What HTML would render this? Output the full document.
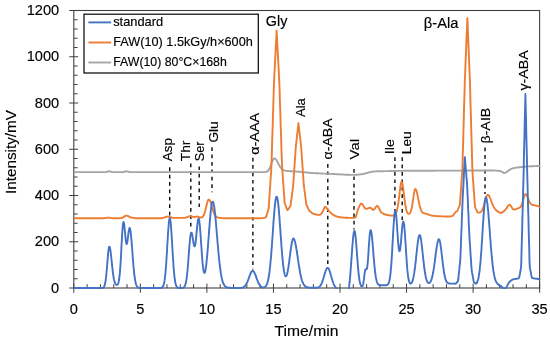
<!DOCTYPE html>
<html lang="en"><head><meta charset="utf-8"><title>Chromatogram</title>
<style>html,body{margin:0;padding:0;background:#fff}body{width:550px;height:340px;overflow:hidden}svg{display:block}</style></head>
<body>
<svg width="550" height="340" viewBox="0 0 550 340">
<rect width="550" height="340" fill="#fff"/>
<defs><clipPath id="pc"><rect x="73.8" y="8.5" width="466.8" height="280.4"/></clipPath></defs>
<path d="M69.2 288.00H78.2M73.8 278.75H77.6M73.8 269.50H77.6M73.8 260.25H77.6M73.8 251.00H77.6M69.2 241.75H78.2M73.8 232.50H77.6M73.8 223.25H77.6M73.8 214.00H77.6M73.8 204.75H77.6M69.2 195.50H78.2M73.8 186.25H77.6M73.8 177.00H77.6M73.8 167.75H77.6M73.8 158.50H77.6M69.2 149.25H78.2M73.8 140.00H77.6M73.8 130.75H77.6M73.8 121.50H77.6M73.8 112.25H77.6M69.2 103.00H78.2M73.8 93.75H77.6M73.8 84.50H77.6M73.8 75.25H77.6M73.8 66.00H77.6M69.2 56.75H78.2M73.8 47.50H77.6M73.8 38.25H77.6M73.8 29.00H77.6M73.8 19.75H77.6M69.2 10.50H78.2M73.80 283.6V292.8M87.11 284.2V288.0M100.42 284.2V288.0M113.73 284.2V288.0M127.04 284.2V288.0M140.35 283.6V292.8M153.66 284.2V288.0M166.97 284.2V288.0M180.28 284.2V288.0M193.59 284.2V288.0M206.90 283.6V292.8M220.21 284.2V288.0M233.52 284.2V288.0M246.83 284.2V288.0M260.14 284.2V288.0M273.45 283.6V292.8M286.76 284.2V288.0M300.07 284.2V288.0M313.38 284.2V288.0M326.69 284.2V288.0M340.00 283.6V292.8M353.31 284.2V288.0M366.62 284.2V288.0M379.93 284.2V288.0M393.24 284.2V288.0M406.55 283.6V292.8M419.86 284.2V288.0M433.17 284.2V288.0M446.48 284.2V288.0M459.79 284.2V288.0M473.10 283.6V292.8M486.41 284.2V288.0M499.72 284.2V288.0M513.03 284.2V288.0M526.34 284.2V288.0M539.65 283.6V292.8" stroke="#404040" stroke-width="1" fill="none"/>
<rect x="73.8" y="10.5" width="465.8" height="277.5" fill="none" stroke="#404040" stroke-width="1.1"/>
<path d="M169.7 167.3V217.5M190.8 163.6V227.2M199.2 166.4V209.8M212.0 147.2V192.2M252.9 157.7V269.5M327.8 164.0V266.5M354.0 169.0V229.5M394.9 157.2V212.0M402.2 157.2V223.0M485.0 147.6V194.0" stroke="#000" stroke-width="1.35" stroke-dasharray="3.7 3.7" fill="none"/>
<g clip-path="url(#pc)" fill="none" stroke-linejoin="round" stroke-linecap="round">
<path d="M73.8 172.1L74.1 172.1L74.3 172.1L74.6 172.1L74.9 172.1L75.1 172.1L75.4 172.1L75.7 172.1L75.9 172.1L76.2 172.1L76.5 172.1L76.7 172.1L77.0 172.1L77.3 172.1L77.5 172.1L77.8 172.1L78.1 172.1L78.3 172.1L78.6 172.1L78.9 172.1L79.1 172.1L79.4 172.1L79.7 172.1L79.9 172.1L80.2 172.1L80.5 172.1L80.7 172.1L81.0 172.1L81.3 172.1L81.5 172.1L81.8 172.1L82.1 172.1L82.3 172.1L82.6 172.1L82.9 172.1L83.1 172.1L83.4 172.1L83.6 172.1L83.9 172.1L84.2 172.1L84.4 172.1L84.7 172.1L85.0 172.1L85.2 172.1L85.5 172.1L85.8 172.1L86.0 172.1L86.3 172.1L86.6 172.1L86.8 172.1L87.1 172.1L87.4 172.1L87.6 172.1L87.9 172.1L88.2 172.1L88.4 172.1L88.7 172.1L89.0 172.1L89.2 172.1L89.5 172.1L89.8 172.1L90.0 172.1L90.3 172.1L90.6 172.1L90.8 172.1L91.1 172.1L91.4 172.1L91.6 172.1L91.9 172.1L92.2 172.1L92.4 172.1L92.7 172.1L93.0 172.1L93.2 172.1L93.5 172.1L93.8 172.1L94.0 172.1L94.3 172.1L94.6 172.1L94.8 172.1L95.1 172.1L95.4 172.1L95.6 172.1L95.9 172.1L96.2 172.1L96.4 172.1L96.7 172.1L97.0 172.1L97.2 172.1L97.5 172.1L97.8 172.1L98.0 172.1L98.3 172.1L98.6 172.1L98.8 172.1L99.1 172.1L99.4 172.1L99.6 172.1L99.9 172.1L100.2 172.1L100.4 172.1L100.7 172.1L101.0 172.1L101.2 172.1L101.5 172.1L101.8 172.1L102.0 172.1L102.3 172.1L102.5 172.1L102.8 172.1L103.1 172.1L103.3 172.1L103.6 172.1L103.9 172.1L104.1 172.1L104.4 172.1L104.7 172.1L104.9 172.1L105.2 172.1L105.5 172.1L105.7 172.1L106.0 172.0L106.3 172.0L106.5 171.9L106.8 171.8L107.1 171.8L107.3 171.7L107.6 171.6L107.9 171.5L108.1 171.5L108.4 171.4L108.7 171.4L108.9 171.3L109.2 171.3L109.5 171.4L109.7 171.4L110.0 171.5L110.3 171.5L110.5 171.6L110.8 171.7L111.1 171.8L111.3 171.8L111.6 171.9L111.9 172.0L112.1 172.0L112.4 172.1L112.7 172.1L112.9 172.1L113.2 172.1L113.5 172.1L113.7 172.1L114.0 172.1L114.3 172.1L114.5 172.1L114.8 172.1L115.1 172.1L115.3 172.1L115.6 172.1L115.9 172.1L116.1 172.1L116.4 172.1L116.7 172.1L116.9 172.1L117.2 172.1L117.5 172.1L117.7 172.1L118.0 172.1L118.3 172.1L118.5 172.1L118.8 172.1L119.1 172.1L119.3 172.1L119.6 172.1L119.9 172.1L120.1 172.1L120.4 172.1L120.7 172.1L120.9 172.1L121.2 172.1L121.4 172.1L121.7 172.1L122.0 172.1L122.2 172.1L122.5 172.1L122.8 172.1L123.0 172.1L123.3 172.0L123.6 172.0L123.8 171.9L124.1 171.8L124.4 171.8L124.6 171.7L124.9 171.6L125.2 171.5L125.4 171.5L125.7 171.4L126.0 171.4L126.2 171.3L126.5 171.3L126.8 171.4L127.0 171.4L127.3 171.5L127.6 171.5L127.8 171.6L128.1 171.7L128.4 171.8L128.6 171.8L128.9 171.9L129.2 172.0L129.4 172.0L129.7 172.1L130.0 172.1L130.2 172.1L130.5 172.1L130.8 172.1L131.0 172.1L131.3 172.1L131.6 172.1L131.8 172.1L132.1 172.1L132.4 172.1L132.6 172.1L132.9 172.1L133.2 172.1L133.4 172.1L133.7 172.1L134.0 172.1L134.2 172.1L134.5 172.1L134.8 172.1L135.0 172.1L135.3 172.1L135.6 172.1L135.8 172.1L136.1 172.1L136.4 172.1L136.6 172.1L136.9 172.1L137.2 172.1L137.4 172.1L137.7 172.1L138.0 172.1L138.2 172.1L138.5 172.1L138.8 172.1L139.0 172.1L139.3 172.1L139.6 172.1L139.8 172.1L140.1 172.1L140.3 172.1L140.6 172.1L140.9 172.1L141.1 172.1L141.4 172.1L141.7 172.1L141.9 172.1L142.2 172.1L142.5 172.1L142.7 172.1L143.0 172.1L143.3 172.1L143.5 172.1L143.8 172.1L144.1 172.1L144.3 172.1L144.6 172.1L144.9 172.1L145.1 172.1L145.4 172.1L145.7 172.1L145.9 172.1L146.2 172.1L146.5 172.1L146.7 172.1L147.0 172.1L147.3 172.1L147.5 172.1L147.8 172.1L148.1 172.1L148.3 172.1L148.6 172.1L148.9 172.1L149.1 172.1L149.4 172.1L149.7 172.1L149.9 172.1L150.2 172.1L150.5 172.1L150.7 172.1L151.0 172.1L151.3 172.1L151.5 172.1L151.8 172.1L152.1 172.1L152.3 172.1L152.6 172.1L152.9 172.1L153.1 172.1L153.4 172.1L153.7 172.1L153.9 172.1L154.2 172.1L154.5 172.1L154.7 172.1L155.0 172.1L155.3 172.1L155.5 172.1L155.8 172.1L156.1 172.1L156.3 172.1L156.6 172.1L156.9 172.1L157.1 172.1L157.4 172.1L157.7 172.1L157.9 172.1L158.2 172.1L158.5 172.1L158.7 172.1L159.0 172.1L159.3 172.1L159.5 172.1L159.8 172.1L160.0 172.1L160.3 172.1L160.6 172.1L160.8 172.1L161.1 172.1L161.4 172.1L161.6 172.1L161.9 172.1L162.2 172.1L162.4 172.1L162.7 172.1L163.0 172.1L163.2 172.1L163.5 172.1L163.8 172.1L164.0 172.1L164.3 172.1L164.6 172.1L164.8 172.1L165.1 172.1L165.4 172.1L165.6 172.1L165.9 172.1L166.2 172.1L166.4 172.1L166.7 172.1L167.0 172.1L167.2 172.1L167.5 172.1L167.8 172.1L168.0 172.1L168.3 172.1L168.6 172.1L168.8 172.1L169.1 172.1L169.4 172.1L169.6 172.1L169.9 172.1L170.2 172.1L170.4 172.1L170.7 172.1L171.0 172.1L171.2 172.1L171.5 172.1L171.8 172.1L172.0 172.1L172.3 172.1L172.6 172.1L172.8 172.1L173.1 172.1L173.4 172.1L173.6 172.1L173.9 172.1L174.2 172.1L174.4 172.1L174.7 172.1L175.0 172.1L175.2 172.1L175.5 172.1L175.8 172.1L176.0 172.1L176.3 172.1L176.6 172.1L176.8 172.1L177.1 172.1L177.4 172.1L177.6 172.1L177.9 172.1L178.2 172.1L178.4 172.1L178.7 172.1L178.9 172.1L179.2 172.1L179.5 172.1L179.7 172.1L180.0 172.1L180.3 172.1L180.5 172.1L180.8 172.1L181.1 172.1L181.3 172.1L181.6 172.1L181.9 172.1L182.1 172.1L182.4 172.1L182.7 172.1L182.9 172.1L183.2 172.1L183.5 172.1L183.7 172.1L184.0 172.1L184.3 172.1L184.5 172.1L184.8 172.1L185.1 172.1L185.3 172.1L185.6 172.1L185.9 172.1L186.1 172.1L186.4 172.1L186.7 172.1L186.9 172.1L187.2 172.1L187.5 172.1L187.7 172.1L188.0 172.1L188.3 172.1L188.5 172.1L188.8 172.1L189.1 172.1L189.3 172.1L189.6 172.1L189.9 172.1L190.1 172.1L190.4 172.1L190.7 172.1L190.9 172.1L191.2 172.1L191.5 172.1L191.7 172.1L192.0 172.1L192.3 172.1L192.5 172.1L192.8 172.1L193.1 172.1L193.3 172.1L193.6 172.1L193.9 172.1L194.1 172.1L194.4 172.1L194.7 172.1L194.9 172.1L195.2 172.1L195.5 172.1L195.7 172.1L196.0 172.1L196.3 172.1L196.5 172.1L196.8 172.1L197.1 172.1L197.3 172.1L197.6 172.1L197.8 172.1L198.1 172.1L198.4 172.1L198.6 172.1L198.9 172.1L199.2 172.1L199.4 172.1L199.7 172.1L200.0 172.1L200.2 172.1L200.5 172.1L200.8 172.1L201.0 172.1L201.3 172.1L201.6 172.1L201.8 172.1L202.1 172.1L202.4 172.1L202.6 172.1L202.9 172.1L203.2 172.1L203.4 172.1L203.7 172.1L204.0 172.1L204.2 172.1L204.5 172.1L204.8 172.1L205.0 172.1L205.3 172.1L205.6 172.1L205.8 172.1L206.1 172.1L206.4 172.1L206.6 172.1L206.9 172.1L207.2 172.1L207.4 172.1L207.7 172.1L208.0 172.1L208.2 172.1L208.5 172.1L208.8 172.1L209.0 172.1L209.3 172.1L209.6 172.1L209.8 172.1L210.1 172.1L210.4 172.1L210.6 172.1L210.9 172.1L211.2 172.1L211.4 172.1L211.7 172.1L212.0 172.1L212.2 172.1L212.5 172.1L212.8 172.1L213.0 172.1L213.3 172.1L213.6 172.1L213.8 172.1L214.1 172.1L214.4 172.1L214.6 172.1L214.9 172.1L215.2 172.1L215.4 172.1L215.7 172.1L216.0 172.1L216.2 172.1L216.5 172.1L216.7 172.1L217.0 172.1L217.3 172.1L217.5 172.1L217.8 172.1L218.1 172.1L218.3 172.1L218.6 172.1L218.9 172.1L219.1 172.1L219.4 172.1L219.7 172.1L219.9 172.1L220.2 172.1L220.5 172.1L220.7 172.1L221.0 172.1L221.3 172.1L221.5 172.1L221.8 172.1L222.1 172.1L222.3 172.1L222.6 172.1L222.9 172.1L223.1 172.1L223.4 172.1L223.7 172.1L223.9 172.1L224.2 172.1L224.5 172.1L224.7 172.1L225.0 172.1L225.3 172.1L225.5 172.1L225.8 172.1L226.1 172.1L226.3 172.1L226.6 172.1L226.9 172.1L227.1 172.1L227.4 172.1L227.7 172.1L227.9 172.1L228.2 172.1L228.5 172.1L228.7 172.1L229.0 172.1L229.3 172.1L229.5 172.1L229.8 172.1L230.1 172.1L230.3 172.1L230.6 172.1L230.9 172.1L231.1 172.1L231.4 172.1L231.7 172.1L231.9 172.1L232.2 172.1L232.5 172.1L232.7 172.1L233.0 172.1L233.3 172.1L233.5 172.1L233.8 172.1L234.1 172.1L234.3 172.1L234.6 172.1L234.9 172.1L235.1 172.1L235.4 172.1L235.6 172.1L235.9 172.1L236.2 172.1L236.4 172.1L236.7 172.1L237.0 172.1L237.2 172.1L237.5 172.1L237.8 172.1L238.0 172.1L238.3 172.1L238.6 172.1L238.8 172.1L239.1 172.1L239.4 172.1L239.6 172.1L239.9 172.1L240.2 172.1L240.4 172.1L240.7 172.1L241.0 172.1L241.2 172.1L241.5 172.1L241.8 172.1L242.0 172.1L242.3 172.1L242.6 172.1L242.8 172.1L243.1 172.1L243.4 172.1L243.6 172.1L243.9 172.1L244.2 172.1L244.4 172.1L244.7 172.1L245.0 172.1L245.2 172.1L245.5 172.1L245.8 172.1L246.0 172.1L246.3 172.1L246.6 172.1L246.8 172.1L247.1 172.1L247.4 172.1L247.6 172.1L247.9 172.1L248.2 172.1L248.4 172.1L248.7 172.1L249.0 172.1L249.2 172.1L249.5 172.1L249.8 172.1L250.0 172.1L250.3 172.1L250.6 172.1L250.8 172.1L251.1 172.1L251.4 172.1L251.6 172.1L251.9 172.1L252.2 172.1L252.4 172.1L252.7 172.1L253.0 172.1L253.2 172.1L253.5 172.1L253.8 172.1L254.0 172.1L254.3 172.1L254.5 172.1L254.8 172.1L255.1 172.1L255.3 172.1L255.6 172.1L255.9 172.1L256.1 172.1L256.4 172.1L256.7 172.1L256.9 172.1L257.2 172.1L257.5 172.1L257.7 172.1L258.0 172.1L258.3 172.1L258.5 172.1L258.8 172.1L259.1 172.1L259.3 172.1L259.6 172.1L259.9 172.1L260.1 172.1L260.4 172.1L260.7 172.1L260.9 172.1L261.2 172.1L261.5 172.1L261.7 172.1L262.0 172.1L262.3 172.1L262.5 172.1L262.8 172.1L263.1 172.1L263.3 172.1L263.6 172.1L263.9 172.1L264.1 172.1L264.4 172.1L264.7 172.1L264.9 172.1L265.2 172.0L265.5 172.0L265.7 171.9L266.0 171.9L266.3 171.8L266.5 171.7L266.8 171.6L267.1 171.5L267.3 171.3L267.6 171.1L267.9 170.9L268.1 170.6L268.4 170.3L268.7 170.0L268.9 169.6L269.2 169.1L269.5 168.6L269.7 168.1L270.0 167.4L270.3 166.8L270.5 166.1L270.8 165.4L271.1 164.7L271.3 163.9L271.6 163.2L271.9 162.4L272.1 161.7L272.4 161.0L272.7 160.4L272.9 159.8L273.2 159.4L273.4 159.0L273.7 158.7L274.0 158.5L274.2 158.4L274.5 158.4L274.8 158.5L275.0 158.6L275.3 158.8L275.6 159.0L275.8 159.3L276.1 159.6L276.4 160.0L276.6 160.4L276.9 160.9L277.2 161.3L277.4 161.8L277.7 162.3L278.0 162.8L278.2 163.4L278.5 163.9L278.8 164.4L279.0 164.9L279.3 165.4L279.6 165.9L279.8 166.3L280.1 166.8L280.4 167.2L280.6 167.6L280.9 167.9L281.2 168.3L281.4 168.6L281.7 168.9L282.0 169.1L282.2 169.3L282.5 169.6L282.8 169.7L283.0 169.9L283.3 170.1L283.6 170.2L283.8 170.3L284.1 170.4L284.4 170.5L284.6 170.6L284.9 170.6L285.2 170.7L285.4 170.7L285.7 170.8L286.0 170.8L286.2 170.9L286.5 170.9L286.8 170.9L287.0 170.9L287.3 171.0L287.6 171.0L287.8 171.0L288.1 171.0L288.4 171.0L288.6 171.1L288.9 171.1L289.2 171.1L289.4 171.1L289.7 171.1L290.0 171.1L290.2 171.2L290.5 171.2L290.8 171.2L291.0 171.2L291.3 171.2L291.6 171.2L291.8 171.3L292.1 171.3L292.4 171.3L292.6 171.3L292.9 171.3L293.1 171.3L293.4 171.4L293.7 171.4L293.9 171.4L294.2 171.4L294.5 171.4L294.7 171.4L295.0 171.5L295.3 171.5L295.5 171.5L295.8 171.5L296.1 171.5L296.3 171.6L296.6 171.6L296.9 171.6L297.1 171.6L297.4 171.6L297.7 171.7L297.9 171.7L298.2 171.7L298.5 171.7L298.7 171.8L299.0 171.8L299.3 171.8L299.5 171.8L299.8 171.8L300.1 171.9L300.3 171.9L300.6 171.9L300.9 171.9L301.1 172.0L301.4 172.0L301.7 172.0L301.9 172.0L302.2 172.1L302.5 172.1L302.7 172.1L303.0 172.2L303.3 172.2L303.5 172.2L303.8 172.2L304.1 172.3L304.3 172.3L304.6 172.3L304.9 172.3L305.1 172.4L305.4 172.4L305.7 172.4L305.9 172.4L306.2 172.5L306.5 172.5L306.7 172.5L307.0 172.5L307.3 172.6L307.5 172.6L307.8 172.6L308.1 172.6L308.3 172.7L308.6 172.7L308.9 172.7L309.1 172.7L309.4 172.8L309.7 172.8L309.9 172.8L310.2 172.8L310.5 172.9L310.7 172.9L311.0 172.9L311.3 172.9L311.5 172.9L311.8 173.0L312.0 173.0L312.3 173.0L312.6 173.0L312.8 173.0L313.1 173.1L313.4 173.1L313.6 173.1L313.9 173.1L314.2 173.1L314.4 173.1L314.7 173.1L315.0 173.2L315.2 173.2L315.5 173.2L315.8 173.2L316.0 173.2L316.3 173.2L316.6 173.2L316.8 173.3L317.1 173.3L317.4 173.3L317.6 173.3L317.9 173.3L318.2 173.3L318.4 173.3L318.7 173.4L319.0 173.4L319.2 173.4L319.5 173.4L319.8 173.4L320.0 173.4L320.3 173.4L320.6 173.4L320.8 173.5L321.1 173.5L321.4 173.5L321.6 173.5L321.9 173.5L322.2 173.5L322.4 173.5L322.7 173.5L323.0 173.5L323.2 173.6L323.5 173.6L323.8 173.6L324.0 173.6L324.3 173.6L324.6 173.6L324.8 173.6L325.1 173.6L325.4 173.7L325.6 173.7L325.9 173.7L326.2 173.7L326.4 173.7L326.7 173.7L327.0 173.7L327.2 173.7L327.5 173.7L327.8 173.8L328.0 173.8L328.3 173.8L328.6 173.8L328.8 173.8L329.1 173.8L329.4 173.8L329.6 173.8L329.9 173.8L330.2 173.9L330.4 173.9L330.7 173.9L330.9 173.9L331.2 173.9L331.5 173.9L331.7 173.9L332.0 173.9L332.3 173.9L332.5 174.0L332.8 174.0L333.1 174.0L333.3 174.0L333.6 174.0L333.9 174.0L334.1 174.0L334.4 174.0L334.7 174.1L334.9 174.1L335.2 174.1L335.5 174.1L335.7 174.1L336.0 174.1L336.3 174.1L336.5 174.2L336.8 174.2L337.1 174.2L337.3 174.2L337.6 174.2L337.9 174.2L338.1 174.3L338.4 174.3L338.7 174.3L338.9 174.3L339.2 174.3L339.5 174.3L339.7 174.4L340.0 174.4L340.3 174.4L340.5 174.4L340.8 174.4L341.1 174.4L341.3 174.5L341.6 174.5L341.9 174.5L342.1 174.5L342.4 174.5L342.7 174.5L342.9 174.5L343.2 174.6L343.5 174.6L343.7 174.6L344.0 174.6L344.3 174.6L344.5 174.6L344.8 174.7L345.1 174.7L345.3 174.7L345.6 174.7L345.9 174.7L346.1 174.7L346.4 174.7L346.7 174.7L346.9 174.8L347.2 174.8L347.5 174.8L347.7 174.8L348.0 174.8L348.3 174.8L348.5 174.8L348.8 174.8L349.1 174.8L349.3 174.9L349.6 174.9L349.8 174.9L350.1 174.9L350.4 174.9L350.6 174.9L350.9 174.9L351.2 174.9L351.4 174.9L351.7 174.9L352.0 174.9L352.2 174.9L352.5 174.9L352.8 174.9L353.0 174.9L353.3 174.9L353.6 174.9L353.8 174.9L354.1 174.9L354.4 174.9L354.6 174.9L354.9 174.9L355.2 174.9L355.4 174.8L355.7 174.8L356.0 174.8L356.2 174.8L356.5 174.8L356.8 174.7L357.0 174.7L357.3 174.7L357.6 174.7L357.8 174.6L358.1 174.6L358.4 174.6L358.6 174.5L358.9 174.5L359.2 174.5L359.4 174.5L359.7 174.4L360.0 174.4L360.2 174.4L360.5 174.3L360.8 174.3L361.0 174.3L361.3 174.2L361.6 174.2L361.8 174.2L362.1 174.1L362.4 174.1L362.6 174.0L362.9 174.0L363.2 173.9L363.4 173.9L363.7 173.8L364.0 173.8L364.2 173.7L364.5 173.6L364.8 173.6L365.0 173.5L365.3 173.4L365.6 173.4L365.8 173.3L366.1 173.2L366.4 173.2L366.6 173.1L366.9 173.0L367.2 172.9L367.4 172.9L367.7 172.8L368.0 172.7L368.2 172.6L368.5 172.6L368.7 172.5L369.0 172.4L369.3 172.4L369.5 172.3L369.8 172.2L370.1 172.2L370.3 172.1L370.6 172.0L370.9 172.0L371.1 171.9L371.4 171.9L371.7 171.8L371.9 171.8L372.2 171.7L372.5 171.7L372.7 171.6L373.0 171.6L373.3 171.6L373.5 171.5L373.8 171.5L374.1 171.5L374.3 171.5L374.6 171.4L374.9 171.4L375.1 171.4L375.4 171.4L375.7 171.4L375.9 171.4L376.2 171.4L376.5 171.4L376.7 171.4L377.0 171.3L377.3 171.3L377.5 171.3L377.8 171.3L378.1 171.3L378.3 171.3L378.6 171.3L378.9 171.3L379.1 171.3L379.4 171.3L379.7 171.3L379.9 171.2L380.2 171.2L380.5 171.2L380.7 171.2L381.0 171.2L381.3 171.2L381.5 171.2L381.8 171.2L382.1 171.2L382.3 171.2L382.6 171.2L382.9 171.2L383.1 171.2L383.4 171.2L383.7 171.2L383.9 171.1L384.2 171.1L384.5 171.1L384.7 171.1L385.0 171.1L385.3 171.1L385.5 171.1L385.8 171.1L386.1 171.1L386.3 171.1L386.6 171.1L386.9 171.1L387.1 171.1L387.4 171.1L387.6 171.1L387.9 171.1L388.2 171.1L388.4 171.1L388.7 171.1L389.0 171.1L389.2 171.1L389.5 171.0L389.8 171.0L390.0 171.0L390.3 171.0L390.6 171.0L390.8 171.0L391.1 171.0L391.4 171.0L391.6 171.0L391.9 171.0L392.2 171.0L392.4 171.0L392.7 171.0L393.0 171.0L393.2 171.0L393.5 171.0L393.8 171.0L394.0 171.0L394.3 171.0L394.6 171.0L394.8 171.0L395.1 171.0L395.4 171.0L395.6 171.0L395.9 170.9L396.2 170.9L396.4 170.9L396.7 170.9L397.0 170.9L397.2 170.9L397.5 170.9L397.8 170.9L398.0 170.9L398.3 170.9L398.6 170.9L398.8 170.9L399.1 170.9L399.4 170.9L399.6 170.9L399.9 170.9L400.2 170.9L400.4 170.9L400.7 170.9L401.0 170.9L401.2 170.9L401.5 170.9L401.8 170.9L402.0 170.9L402.3 170.9L402.6 170.9L402.8 170.9L403.1 170.8L403.4 170.8L403.6 170.8L403.9 170.8L404.2 170.8L404.4 170.8L404.7 170.8L405.0 170.8L405.2 170.8L405.5 170.8L405.8 170.8L406.0 170.8L406.3 170.8L406.6 170.8L406.8 170.8L407.1 170.8L407.3 170.8L407.6 170.8L407.9 170.8L408.1 170.8L408.4 170.8L408.7 170.8L408.9 170.8L409.2 170.8L409.5 170.8L409.7 170.8L410.0 170.8L410.3 170.8L410.5 170.8L410.8 170.8L411.1 170.8L411.3 170.8L411.6 170.8L411.9 170.8L412.1 170.8L412.4 170.8L412.7 170.8L412.9 170.8L413.2 170.8L413.5 170.8L413.7 170.8L414.0 170.8L414.3 170.8L414.5 170.7L414.8 170.7L415.1 170.7L415.3 170.7L415.6 170.7L415.9 170.7L416.1 170.7L416.4 170.7L416.7 170.7L416.9 170.7L417.2 170.7L417.5 170.7L417.7 170.7L418.0 170.7L418.3 170.7L418.5 170.7L418.8 170.7L419.1 170.7L419.3 170.7L419.6 170.7L419.9 170.7L420.1 170.7L420.4 170.7L420.7 170.7L420.9 170.7L421.2 170.7L421.5 170.7L421.7 170.7L422.0 170.7L422.3 170.7L422.5 170.7L422.8 170.7L423.1 170.7L423.3 170.7L423.6 170.7L423.9 170.7L424.1 170.7L424.4 170.7L424.7 170.7L424.9 170.7L425.2 170.7L425.5 170.7L425.7 170.7L426.0 170.7L426.2 170.7L426.5 170.7L426.8 170.7L427.0 170.7L427.3 170.7L427.6 170.7L427.8 170.7L428.1 170.7L428.4 170.7L428.6 170.7L428.9 170.7L429.2 170.7L429.4 170.7L429.7 170.7L430.0 170.7L430.2 170.7L430.5 170.7L430.8 170.7L431.0 170.7L431.3 170.7L431.6 170.7L431.8 170.7L432.1 170.7L432.4 170.7L432.6 170.7L432.9 170.7L433.2 170.7L433.4 170.7L433.7 170.7L434.0 170.7L434.2 170.7L434.5 170.7L434.8 170.7L435.0 170.7L435.3 170.7L435.6 170.7L435.8 170.6L436.1 170.6L436.4 170.6L436.6 170.6L436.9 170.6L437.2 170.6L437.4 170.6L437.7 170.6L438.0 170.6L438.2 170.6L438.5 170.6L438.8 170.6L439.0 170.6L439.3 170.6L439.6 170.6L439.8 170.6L440.1 170.6L440.4 170.6L440.6 170.6L440.9 170.6L441.2 170.6L441.4 170.6L441.7 170.6L442.0 170.6L442.2 170.6L442.5 170.6L442.8 170.6L443.0 170.6L443.3 170.6L443.6 170.6L443.8 170.6L444.1 170.6L444.4 170.6L444.6 170.6L444.9 170.6L445.1 170.6L445.4 170.6L445.7 170.6L445.9 170.6L446.2 170.6L446.5 170.6L446.7 170.6L447.0 170.6L447.3 170.6L447.5 170.6L447.8 170.6L448.1 170.6L448.3 170.6L448.6 170.6L448.9 170.6L449.1 170.6L449.4 170.6L449.7 170.6L449.9 170.6L450.2 170.6L450.5 170.6L450.7 170.6L451.0 170.6L451.3 170.6L451.5 170.6L451.8 170.6L452.1 170.6L452.3 170.6L452.6 170.6L452.9 170.6L453.1 170.6L453.4 170.6L453.7 170.6L453.9 170.6L454.2 170.6L454.5 170.6L454.7 170.6L455.0 170.6L455.3 170.6L455.5 170.6L455.8 170.6L456.1 170.6L456.3 170.6L456.6 170.6L456.9 170.6L457.1 170.6L457.4 170.6L457.7 170.6L457.9 170.6L458.2 170.6L458.5 170.6L458.7 170.6L459.0 170.6L459.3 170.6L459.5 170.6L459.8 170.6L460.1 170.6L460.3 170.6L460.6 170.6L460.9 170.6L461.1 170.6L461.4 170.6L461.7 170.6L461.9 170.6L462.2 170.6L462.5 170.6L462.7 170.6L463.0 170.6L463.3 170.6L463.5 170.6L463.8 170.6L464.0 170.6L464.3 170.6L464.6 170.6L464.8 170.6L465.1 170.6L465.4 170.6L465.6 170.6L465.9 170.6L466.2 170.6L466.4 170.6L466.7 170.6L467.0 170.6L467.2 170.6L467.4 170.6L467.5 170.6L467.8 170.6L468.0 170.6L468.3 170.6L468.6 170.5L468.8 170.5L469.1 170.5L469.4 170.5L469.6 170.5L469.9 170.5L470.2 170.5L470.4 170.5L470.7 170.5L471.0 170.5L471.2 170.5L471.5 170.5L471.8 170.5L472.0 170.5L472.3 170.5L472.6 170.5L472.8 170.5L473.1 170.5L473.4 170.5L473.6 170.5L473.9 170.5L474.2 170.5L474.4 170.5L474.7 170.5L475.0 170.5L475.2 170.5L475.5 170.5L475.8 170.5L476.0 170.5L476.3 170.5L476.6 170.5L476.8 170.5L477.1 170.5L477.4 170.5L477.6 170.5L477.9 170.5L478.2 170.5L478.4 170.5L478.7 170.5L479.0 170.5L479.2 170.5L479.5 170.5L479.8 170.5L480.0 170.5L480.3 170.5L480.6 170.5L480.8 170.5L481.1 170.5L481.4 170.5L481.6 170.5L481.9 170.5L482.2 170.5L482.4 170.5L482.7 170.5L482.9 170.5L483.2 170.5L483.5 170.5L483.7 170.5L484.0 170.5L484.3 170.5L484.5 170.5L484.8 170.5L485.1 170.5L485.3 170.5L485.6 170.5L485.9 170.5L486.1 170.5L486.4 170.5L486.7 170.5L486.9 170.5L487.2 170.5L487.5 170.5L487.7 170.5L488.0 170.5L488.3 170.5L488.5 170.5L488.8 170.5L489.1 170.5L489.3 170.5L489.6 170.5L489.9 170.5L490.1 170.5L490.4 170.5L490.7 170.5L490.9 170.5L491.2 170.5L491.5 170.5L491.7 170.5L492.0 170.5L492.3 170.5L492.5 170.5L492.8 170.5L493.1 170.5L493.3 170.5L493.6 170.5L493.9 170.5L494.1 170.5L494.4 170.5L494.7 170.5L494.9 170.6L495.2 170.6L495.5 170.6L495.7 170.6L496.0 170.6L496.3 170.6L496.5 170.6L496.8 170.6L497.1 170.7L497.3 170.7L497.6 170.7L497.9 170.7L498.1 170.7L498.4 170.8L498.7 170.8L498.9 170.8L499.2 170.9L499.5 170.9L499.7 171.0L500.0 171.1L500.3 171.2L500.5 171.2L500.8 171.3L501.1 171.4L501.3 171.5L501.6 171.6L501.8 171.7L502.1 171.9L502.4 172.0L502.6 172.2L502.9 172.4L503.2 172.6L503.4 172.8L503.7 172.9L504.0 173.0L504.2 173.1L504.5 173.1L504.8 173.0L505.0 172.9L505.3 172.8L505.6 172.7L505.8 172.5L506.1 172.3L506.4 172.2L506.6 172.0L506.9 171.8L507.2 171.6L507.4 171.4L507.7 171.2L508.0 171.1L508.2 170.9L508.5 170.7L508.8 170.5L509.0 170.3L509.3 170.1L509.6 169.9L509.8 169.7L510.1 169.5L510.4 169.4L510.6 169.2L510.9 169.0L511.2 168.9L511.4 168.8L511.7 168.7L512.0 168.6L512.2 168.5L512.5 168.4L512.8 168.4L513.0 168.3L513.3 168.2L513.6 168.1L513.8 168.1L514.1 168.0L514.4 168.0L514.6 167.9L514.9 167.9L515.2 167.8L515.4 167.8L515.7 167.7L516.0 167.7L516.2 167.6L516.5 167.6L516.8 167.6L517.0 167.5L517.3 167.5L517.6 167.4L517.8 167.4L518.1 167.4L518.4 167.3L518.6 167.3L518.9 167.3L519.2 167.2L519.4 167.2L519.7 167.2L520.0 167.2L520.2 167.1L520.5 167.1L520.7 167.1L521.0 167.0L521.3 167.0L521.5 167.0L521.8 167.0L522.1 166.9L522.3 166.9L522.6 166.9L522.9 166.9L523.1 166.8L523.4 166.8L523.7 166.8L523.9 166.8L524.2 166.8L524.5 166.7L524.7 166.7L525.0 166.7L525.3 166.7L525.4 166.7L525.5 166.7L525.8 166.6L526.1 166.6L526.3 166.6L526.6 166.6L526.9 166.6L527.1 166.5L527.4 166.5L527.7 166.5L527.9 166.5L528.2 166.5L528.5 166.4L528.7 166.4L529.0 166.4L529.3 166.4L529.5 166.4L529.8 166.4L530.1 166.3L530.3 166.3L530.6 166.3L530.9 166.3L531.1 166.3L531.4 166.3L531.7 166.2L531.9 166.2L532.2 166.2L532.5 166.2L532.7 166.2L533.0 166.2L533.3 166.2L533.5 166.1L533.8 166.1L534.1 166.1L534.3 166.1L534.6 166.1L534.9 166.1L535.1 166.1L535.4 166.1L535.7 166.0L535.9 166.0L536.2 166.0L536.5 166.0L536.7 166.0L537.0 166.0L537.3 166.0L537.5 166.0L537.8 166.0L538.1 165.9L538.3 165.9L538.6 165.9L538.9 165.9L539.1 165.9L539.4 165.9L539.6 165.9" stroke="#A5A5A5" stroke-width="1.9"/>
<path d="M73.8 218.2L74.1 218.2L74.3 218.2L74.6 218.2L74.9 218.2L75.1 218.2L75.4 218.2L75.7 218.2L75.9 218.2L76.2 218.2L76.5 218.2L76.7 218.2L77.0 218.2L77.3 218.2L77.5 218.2L77.8 218.2L78.1 218.2L78.3 218.2L78.6 218.2L78.9 218.2L79.1 218.2L79.4 218.2L79.7 218.2L79.9 218.2L80.2 218.2L80.5 218.2L80.7 218.2L81.0 218.2L81.3 218.2L81.5 218.2L81.8 218.2L82.1 218.2L82.3 218.2L82.6 218.2L82.9 218.2L83.1 218.2L83.4 218.2L83.6 218.2L83.9 218.2L84.2 218.2L84.4 218.2L84.7 218.2L85.0 218.2L85.2 218.2L85.5 218.2L85.8 218.2L86.0 218.2L86.3 218.2L86.6 218.2L86.8 218.2L87.1 218.2L87.4 218.2L87.6 218.2L87.9 218.2L88.2 218.2L88.4 218.2L88.7 218.2L89.0 218.2L89.2 218.2L89.5 218.2L89.8 218.2L90.0 218.2L90.3 218.2L90.6 218.2L90.8 218.2L91.1 218.2L91.4 218.2L91.6 218.2L91.9 218.2L92.2 218.2L92.4 218.2L92.7 218.2L93.0 218.2L93.2 218.2L93.5 218.2L93.8 218.2L94.0 218.2L94.3 218.2L94.6 218.2L94.8 218.2L95.1 218.2L95.4 218.2L95.6 218.2L95.9 218.2L96.2 218.2L96.4 218.2L96.7 218.2L97.0 218.2L97.2 218.2L97.5 218.2L97.8 218.2L98.0 218.2L98.3 218.2L98.6 218.2L98.8 218.2L99.1 218.2L99.4 218.2L99.6 218.2L99.9 218.2L100.2 218.2L100.4 218.2L100.7 218.2L101.0 218.2L101.2 218.2L101.5 218.2L101.8 218.2L102.0 218.2L102.3 218.2L102.5 218.2L102.8 218.2L103.1 218.2L103.3 218.2L103.6 218.2L103.9 218.2L104.1 218.1L104.4 218.1L104.7 218.1L104.9 218.1L105.2 218.1L105.5 218.1L105.7 218.0L106.0 218.0L106.3 217.9L106.5 217.9L106.8 217.8L107.1 217.8L107.3 217.7L107.6 217.7L107.9 217.6L108.1 217.6L108.4 217.6L108.7 217.6L108.9 217.6L109.2 217.7L109.5 217.7L109.7 217.8L110.0 217.8L110.3 217.9L110.5 217.9L110.8 218.0L111.1 218.0L111.3 218.1L111.6 218.1L111.9 218.1L112.1 218.1L112.4 218.1L112.7 218.1L112.9 218.2L113.2 218.2L113.5 218.2L113.7 218.2L114.0 218.2L114.3 218.2L114.5 218.2L114.8 218.2L115.1 218.2L115.3 218.2L115.6 218.2L115.9 218.2L116.1 218.2L116.4 218.2L116.7 218.2L116.9 218.2L117.2 218.2L117.5 218.2L117.7 218.2L118.0 218.2L118.3 218.2L118.5 218.2L118.8 218.2L119.1 218.2L119.3 218.2L119.6 218.2L119.9 218.1L120.1 218.1L120.4 218.1L120.7 218.1L120.9 218.0L121.2 218.0L121.4 218.0L121.7 217.9L122.0 217.9L122.2 217.8L122.5 217.7L122.8 217.5L123.0 217.4L123.3 217.2L123.6 217.0L123.8 216.8L124.1 216.6L124.4 216.5L124.6 216.3L124.9 216.1L125.2 216.0L125.4 215.8L125.7 215.7L126.0 215.7L126.2 215.6L126.5 215.6L126.8 215.7L127.0 215.7L127.3 215.8L127.6 215.9L127.8 216.0L128.1 216.1L128.4 216.2L128.6 216.4L128.9 216.5L129.2 216.7L129.4 216.8L129.7 217.0L130.0 217.1L130.2 217.2L130.5 217.3L130.8 217.4L131.0 217.5L131.3 217.5L131.6 217.6L131.8 217.6L132.1 217.7L132.4 217.7L132.6 217.8L132.9 217.8L133.2 217.9L133.4 217.9L133.7 217.9L134.0 218.0L134.2 218.0L134.5 218.1L134.8 218.1L135.0 218.1L135.3 218.1L135.6 218.1L135.8 218.2L136.1 218.2L136.4 218.2L136.6 218.2L136.9 218.2L137.2 218.2L137.4 218.2L137.7 218.2L138.0 218.2L138.2 218.2L138.5 218.2L138.8 218.2L139.0 218.2L139.3 218.2L139.6 218.2L139.8 218.2L140.1 218.2L140.3 218.2L140.6 218.2L140.9 218.2L141.1 218.2L141.4 218.2L141.7 218.2L141.9 218.2L142.2 218.2L142.5 218.2L142.7 218.2L143.0 218.2L143.3 218.2L143.5 218.2L143.8 218.2L144.1 218.2L144.3 218.2L144.6 218.2L144.9 218.2L145.1 218.2L145.4 218.2L145.7 218.2L145.9 218.2L146.2 218.2L146.5 218.2L146.7 218.2L147.0 218.2L147.3 218.2L147.5 218.2L147.8 218.2L148.1 218.2L148.3 218.2L148.6 218.2L148.9 218.2L149.1 218.2L149.4 218.2L149.7 218.2L149.9 218.2L150.2 218.2L150.5 218.2L150.7 218.2L151.0 218.2L151.3 218.2L151.5 218.2L151.8 218.2L152.1 218.2L152.3 218.2L152.6 218.2L152.9 218.2L153.1 218.2L153.4 218.2L153.7 218.2L153.9 218.2L154.2 218.2L154.5 218.2L154.7 218.2L155.0 218.2L155.3 218.2L155.5 218.2L155.8 218.2L156.1 218.2L156.3 218.2L156.6 218.2L156.9 218.2L157.1 218.2L157.4 218.2L157.7 218.2L157.9 218.2L158.2 218.2L158.5 218.2L158.7 218.2L159.0 218.2L159.3 218.2L159.5 218.2L159.8 218.2L160.0 218.2L160.3 218.2L160.6 218.2L160.8 218.2L161.1 218.2L161.4 218.2L161.6 218.2L161.9 218.2L162.2 218.1L162.4 218.1L162.7 218.0L163.0 218.0L163.2 217.9L163.5 217.8L163.8 217.7L164.0 217.6L164.3 217.5L164.6 217.4L164.8 217.3L165.1 217.2L165.4 217.1L165.6 217.0L165.9 216.9L166.2 216.8L166.4 216.8L166.7 216.7L167.0 216.6L167.2 216.6L167.5 216.6L167.8 216.5L168.0 216.5L168.3 216.6L168.6 216.6L168.8 216.6L169.1 216.7L169.4 216.8L169.6 216.8L169.9 216.9L170.2 217.0L170.4 217.1L170.7 217.2L171.0 217.3L171.2 217.4L171.5 217.5L171.8 217.6L172.0 217.7L172.3 217.7L172.6 217.8L172.8 217.9L173.1 217.9L173.4 217.9L173.6 217.9L173.9 217.9L174.2 217.9L174.4 217.9L174.7 217.9L175.0 217.9L175.2 217.9L175.5 217.9L175.8 217.9L176.0 217.9L176.3 217.9L176.6 217.9L176.8 217.9L177.1 217.9L177.4 217.9L177.6 217.9L177.9 217.9L178.2 217.9L178.4 217.9L178.7 217.9L178.9 217.9L179.2 217.9L179.5 217.9L179.7 217.9L180.0 217.9L180.3 217.9L180.5 217.9L180.8 217.9L181.1 217.9L181.3 217.9L181.6 217.9L181.9 217.9L182.1 217.9L182.4 217.9L182.7 217.9L182.9 217.9L183.2 217.9L183.5 217.9L183.7 217.9L184.0 217.9L184.3 217.9L184.5 217.9L184.8 217.9L185.1 217.8L185.3 217.8L185.6 217.7L185.9 217.6L186.1 217.5L186.4 217.4L186.7 217.3L186.9 217.2L187.2 217.1L187.5 217.0L187.7 216.9L188.0 216.7L188.3 216.6L188.5 216.5L188.8 216.4L189.1 216.3L189.3 216.3L189.6 216.2L189.9 216.1L190.1 216.1L190.4 216.1L190.7 216.1L190.9 216.1L191.2 216.2L191.5 216.3L191.7 216.4L192.0 216.5L192.3 216.6L192.5 216.7L192.8 216.8L193.1 216.9L193.3 216.9L193.6 217.0L193.9 217.0L194.1 217.0L194.4 217.0L194.7 216.9L194.9 216.9L195.2 216.8L195.5 216.8L195.7 216.7L196.0 216.7L196.3 216.6L196.5 216.6L196.8 216.6L197.1 216.5L197.3 216.6L197.6 216.6L197.8 216.7L198.1 216.8L198.4 216.8L198.6 217.0L198.9 217.1L199.2 217.2L199.4 217.3L199.7 217.4L200.0 217.5L200.2 217.5L200.5 217.6L200.8 217.6L201.0 217.5L201.3 217.5L201.6 217.4L201.8 217.3L202.1 217.2L202.4 217.0L202.6 216.8L202.9 216.5L203.2 216.2L203.4 215.8L203.7 215.3L204.0 214.7L204.2 214.1L204.5 213.4L204.8 212.5L205.0 211.6L205.3 210.6L205.6 209.6L205.8 208.5L206.1 207.3L206.4 206.1L206.6 205.0L206.9 203.9L207.2 202.8L207.4 201.9L207.7 201.1L208.0 200.4L208.2 200.0L208.5 199.7L208.8 199.6L209.0 199.6L209.3 199.8L209.6 200.1L209.8 200.6L210.1 201.1L210.4 201.8L210.6 202.5L210.9 203.3L211.2 204.1L211.4 205.0L211.7 205.9L212.0 206.9L212.2 207.8L212.5 208.7L212.8 209.6L213.0 210.5L213.3 211.3L213.6 212.1L213.8 212.8L214.1 213.4L214.4 214.0L214.6 214.6L214.9 215.1L215.2 215.5L215.4 215.9L215.7 216.2L216.0 216.5L216.2 216.7L216.5 217.0L216.7 217.1L217.0 217.3L217.3 217.4L217.5 217.5L217.8 217.6L218.1 217.7L218.3 217.7L218.6 217.8L218.9 217.8L219.1 217.8L219.4 217.9L219.7 217.9L219.9 217.9L220.2 217.9L220.5 217.9L220.7 218.0L221.0 218.0L221.3 218.0L221.5 218.0L221.8 218.1L222.1 218.1L222.3 218.1L222.6 218.1L222.9 218.1L223.1 218.1L223.4 218.1L223.7 218.2L223.9 218.2L224.2 218.2L224.5 218.2L224.7 218.2L225.0 218.2L225.3 218.2L225.5 218.2L225.8 218.2L226.1 218.2L226.3 218.2L226.6 218.2L226.9 218.2L227.1 218.2L227.4 218.2L227.7 218.2L227.9 218.2L228.2 218.2L228.5 218.2L228.7 218.2L229.0 218.2L229.3 218.2L229.5 218.2L229.8 218.2L230.1 218.2L230.3 218.2L230.6 218.2L230.9 218.2L231.1 218.2L231.4 218.2L231.7 218.2L231.9 218.2L232.2 218.2L232.5 218.2L232.7 218.2L233.0 218.2L233.3 218.2L233.5 218.2L233.8 218.2L234.1 218.2L234.3 218.2L234.6 218.2L234.9 218.2L235.1 218.2L235.4 218.2L235.6 218.2L235.9 218.2L236.2 218.2L236.4 218.2L236.7 218.2L237.0 218.2L237.2 218.2L237.5 218.2L237.8 218.2L238.0 218.2L238.3 218.2L238.6 218.2L238.8 218.2L239.1 218.2L239.4 218.2L239.6 218.2L239.9 218.2L240.2 218.2L240.4 218.2L240.7 218.2L241.0 218.2L241.2 218.2L241.5 218.2L241.8 218.2L242.0 218.2L242.3 218.2L242.6 218.2L242.8 218.2L243.1 218.2L243.4 218.2L243.6 218.2L243.9 218.2L244.2 218.2L244.4 218.2L244.7 218.2L245.0 218.2L245.2 218.2L245.5 218.2L245.8 218.2L246.0 218.2L246.3 218.2L246.6 218.2L246.8 218.2L247.1 218.2L247.4 218.2L247.6 218.2L247.9 218.2L248.2 218.2L248.4 218.2L248.7 218.2L249.0 218.2L249.2 218.2L249.5 218.2L249.8 218.2L250.0 218.2L250.3 218.2L250.6 218.2L250.8 218.2L251.1 218.2L251.4 218.2L251.6 218.2L251.9 218.2L252.2 218.2L252.4 218.2L252.7 218.2L253.0 218.2L253.2 218.2L253.5 218.2L253.8 218.2L254.0 218.2L254.3 218.2L254.5 218.2L254.8 218.2L255.1 218.2L255.3 218.2L255.6 218.2L255.9 218.2L256.1 218.2L256.4 218.2L256.7 218.2L256.9 218.2L257.2 218.2L257.5 218.2L257.7 218.2L258.0 218.2L258.3 218.2L258.5 218.2L258.8 218.2L259.1 218.2L259.3 218.2L259.6 218.2L259.9 218.2L260.1 218.2L260.4 218.2L260.7 218.2L260.9 218.2L261.2 218.2L261.5 218.1L261.7 218.1L262.0 218.1L262.3 218.1L262.5 218.1L262.8 218.1L263.1 218.1L263.3 218.1L263.6 218.0L263.9 217.9L264.1 217.9L264.4 217.8L264.7 217.7L264.9 217.6L265.2 217.5L265.5 217.4L265.7 217.3L266.0 217.2L266.3 216.4L266.5 215.5L266.8 214.6L267.1 213.7L267.3 212.8L267.6 212.0L267.9 211.1L268.1 210.2L268.4 209.3L268.7 208.4L268.9 204.4L269.2 200.4L269.5 196.4L269.7 192.3L270.0 188.3L270.3 184.3L270.5 180.3L270.8 176.2L271.1 172.2L271.3 168.2L271.6 159.7L271.9 151.3L272.1 142.8L272.4 134.4L272.7 126.0L272.9 117.5L273.2 109.1L273.4 100.6L273.7 92.2L274.0 83.7L274.2 78.4L274.5 73.1L274.8 67.7L275.0 62.4L275.3 57.1L275.6 51.7L275.8 46.4L276.1 41.1L276.4 35.8L276.6 30.4L276.9 35.6L277.2 40.7L277.4 45.8L277.7 50.9L278.0 56.1L278.2 61.2L278.5 66.3L278.8 71.5L279.0 76.6L279.3 81.7L279.6 90.0L279.8 98.3L280.1 106.5L280.4 114.8L280.6 123.1L280.9 131.3L281.2 139.6L281.4 147.8L281.7 156.1L282.0 164.4L282.2 168.2L282.5 172.1L282.8 175.9L283.0 179.8L283.3 183.6L283.6 187.5L283.8 191.4L284.1 195.2L284.4 199.1L284.6 202.9L284.9 203.7L285.2 204.4L285.4 205.1L285.7 205.8L286.0 206.5L286.2 207.2L286.5 207.9L286.8 208.6L287.0 209.3L287.3 210.0L287.6 210.0L287.8 210.0L288.1 209.6L288.4 209.1L288.6 208.7L288.9 208.3L289.2 207.9L289.4 207.5L289.7 207.1L290.0 206.6L290.2 206.1L290.5 205.6L290.8 203.7L291.0 201.7L291.3 199.8L291.6 197.8L291.8 195.8L292.1 193.8L292.4 191.9L292.6 189.9L292.9 187.9L293.1 186.0L293.4 182.1L293.7 178.2L293.9 174.3L294.2 170.4L294.5 166.5L294.7 162.6L295.0 158.7L295.3 154.8L295.5 150.9L295.8 147.0L296.1 144.6L296.3 142.3L296.6 139.9L296.9 137.5L297.1 135.1L297.4 132.7L297.7 130.3L297.9 128.0L298.2 125.6L298.5 123.2L298.7 125.5L299.0 127.8L299.3 130.1L299.5 132.5L299.8 134.8L300.1 137.1L300.3 139.4L300.6 141.8L300.9 144.1L301.1 146.5L301.4 150.3L301.7 154.2L301.9 158.0L302.2 161.9L302.5 165.8L302.7 169.7L303.0 173.5L303.3 177.4L303.5 181.3L303.8 185.2L304.1 187.2L304.3 189.2L304.6 191.1L304.9 193.1L305.1 195.1L305.4 197.1L305.7 199.1L305.9 201.1L306.2 203.1L306.5 205.1L306.7 205.6L307.0 206.1L307.3 206.6L307.5 207.2L307.8 207.7L308.1 208.3L308.3 208.8L308.6 209.4L308.9 210.0L309.1 210.6L309.4 210.8L309.7 211.1L309.9 211.3L310.2 211.5L310.5 211.8L310.7 212.0L311.0 212.3L311.3 212.5L311.5 212.7L311.8 213.0L312.0 213.1L312.3 213.3L312.6 213.4L312.8 213.6L313.1 213.7L313.4 213.8L313.6 213.8L313.9 213.9L314.2 214.0L314.4 214.1L314.7 214.2L315.0 214.2L315.2 214.3L315.5 214.4L315.8 214.4L316.0 214.5L316.3 214.6L316.6 214.6L316.8 214.7L317.1 214.7L317.4 214.8L317.6 214.8L317.9 214.8L318.2 214.9L318.4 214.9L318.7 214.9L319.0 214.9L319.2 214.9L319.5 214.9L319.8 214.9L320.0 214.7L320.3 214.6L320.6 214.3L320.8 214.1L321.1 213.8L321.4 213.5L321.6 213.1L321.9 212.8L322.2 212.4L322.4 212.0L322.7 211.7L323.0 211.2L323.2 210.6L323.5 210.0L323.8 209.2L324.0 208.5L324.3 207.9L324.6 207.3L324.8 207.0L325.1 206.8L325.4 206.9L325.6 207.0L325.9 207.2L326.2 207.5L326.4 207.8L326.7 208.2L327.0 208.5L327.2 208.9L327.5 209.3L327.8 209.7L328.0 210.0L328.3 210.3L328.6 210.6L328.8 210.8L329.1 211.1L329.4 211.4L329.6 211.7L329.9 212.0L330.2 212.2L330.4 212.5L330.7 212.8L330.9 213.1L331.2 213.3L331.5 213.6L331.7 213.8L332.0 214.0L332.3 214.2L332.5 214.4L332.8 214.6L333.1 214.8L333.3 214.9L333.6 215.1L333.9 215.2L334.1 215.3L334.4 215.5L334.7 215.6L334.9 215.7L335.2 215.8L335.5 215.9L335.7 216.1L336.0 216.2L336.3 216.3L336.5 216.4L336.8 216.5L337.1 216.6L337.3 216.6L337.6 216.7L337.9 216.8L338.1 216.9L338.4 217.0L338.7 217.0L338.9 217.1L339.2 217.1L339.5 217.2L339.7 217.2L340.0 217.2L340.3 217.3L340.5 217.3L340.8 217.3L341.1 217.3L341.3 217.4L341.6 217.4L341.9 217.4L342.1 217.4L342.4 217.5L342.7 217.5L342.9 217.5L343.2 217.5L343.5 217.6L343.7 217.6L344.0 217.6L344.3 217.6L344.5 217.6L344.8 217.7L345.1 217.7L345.3 217.7L345.6 217.7L345.9 217.7L346.1 217.8L346.4 217.8L346.7 217.8L346.9 217.8L347.2 217.8L347.5 217.8L347.7 217.8L348.0 217.8L348.3 217.9L348.5 217.9L348.8 217.9L349.1 217.9L349.3 217.9L349.6 217.9L349.8 217.9L350.1 217.9L350.4 217.9L350.6 217.9L350.9 217.9L351.2 217.9L351.4 217.9L351.7 217.9L352.0 217.9L352.2 217.9L352.5 217.9L352.8 217.9L353.0 217.9L353.3 217.9L353.6 217.8L353.8 217.8L354.1 217.7L354.4 217.7L354.6 217.6L354.9 217.6L355.2 217.5L355.4 217.4L355.7 217.0L356.0 216.4L356.2 215.6L356.5 214.6L356.8 213.5L357.0 212.5L357.3 211.4L357.6 210.5L357.8 209.7L358.1 209.1L358.4 208.5L358.6 207.8L358.9 207.2L359.2 206.6L359.4 206.0L359.7 205.4L360.0 204.9L360.2 204.5L360.5 204.1L360.8 203.8L361.0 203.7L361.3 203.6L361.6 203.6L361.8 203.8L362.1 204.0L362.4 204.3L362.6 204.6L362.9 205.0L363.2 205.5L363.4 205.9L363.7 206.4L364.0 206.8L364.2 207.3L364.5 207.7L364.8 208.0L365.0 208.4L365.3 208.6L365.6 208.8L365.8 208.9L366.1 208.9L366.4 208.9L366.6 208.8L366.9 208.8L367.2 208.7L367.4 208.6L367.7 208.5L368.0 208.4L368.2 208.3L368.5 208.2L368.7 208.1L369.0 208.0L369.3 207.9L369.5 207.8L369.8 207.8L370.1 207.8L370.3 207.8L370.6 207.9L370.9 208.0L371.1 208.2L371.4 208.5L371.7 208.7L371.9 209.0L372.2 209.3L372.5 209.5L372.7 209.7L373.0 209.8L373.3 209.8L373.5 209.8L373.8 209.6L374.1 209.4L374.3 209.1L374.6 208.8L374.9 208.5L375.1 208.1L375.4 207.7L375.7 207.3L375.9 206.9L376.2 206.6L376.5 206.3L376.7 206.1L377.0 206.0L377.3 205.9L377.5 206.0L377.8 206.2L378.1 206.5L378.3 206.9L378.6 207.4L378.9 207.9L379.1 208.5L379.4 209.0L379.7 209.6L379.9 210.2L380.2 210.8L380.5 211.3L380.7 211.8L381.0 212.1L381.3 212.4L381.5 212.6L381.8 212.8L382.1 213.0L382.3 213.1L382.6 213.3L382.9 213.5L383.1 213.6L383.4 213.8L383.7 213.9L383.9 214.0L384.2 214.1L384.5 214.2L384.7 214.3L385.0 214.4L385.3 214.5L385.5 214.5L385.8 214.6L386.1 214.7L386.3 214.7L386.6 214.8L386.9 214.9L387.1 214.9L387.4 215.0L387.6 215.0L387.9 215.1L388.2 215.1L388.4 215.2L388.7 215.2L389.0 215.3L389.2 215.3L389.5 215.4L389.8 215.4L390.0 215.4L390.3 215.5L390.6 215.5L390.8 215.5L391.1 215.6L391.4 215.6L391.6 215.6L391.9 215.6L392.2 215.6L392.4 215.6L392.7 215.6L393.0 215.6L393.2 215.5L393.5 215.4L393.8 215.3L394.0 215.2L394.3 215.0L394.6 214.8L394.8 214.6L395.1 214.4L395.4 214.1L395.6 213.8L395.9 213.3L396.2 212.7L396.4 212.0L396.7 211.1L397.0 210.2L397.2 209.1L397.5 207.8L397.8 206.4L398.0 204.9L398.3 203.2L398.6 201.4L398.8 199.4L399.1 197.3L399.4 195.0L399.6 192.7L399.9 190.4L400.2 188.2L400.4 186.2L400.7 184.5L401.0 183.2L401.2 182.3L401.5 181.9L401.8 182.0L402.0 182.6L402.3 183.4L402.6 184.6L402.8 186.1L403.1 187.9L403.4 189.8L403.6 191.8L403.9 194.0L404.2 196.1L404.4 198.3L404.7 200.3L405.0 202.3L405.2 204.1L405.5 205.7L405.8 207.2L406.0 208.5L406.3 209.7L406.6 210.7L406.8 211.5L407.1 212.2L407.3 212.7L407.6 213.1L407.9 213.4L408.1 213.6L408.4 213.8L408.7 213.9L408.9 213.8L409.2 213.8L409.5 213.6L409.7 213.4L410.0 213.1L410.3 212.7L410.5 212.2L410.8 211.5L411.1 210.7L411.3 209.7L411.6 208.6L411.9 207.3L412.1 205.9L412.4 204.2L412.7 202.5L412.9 200.7L413.2 198.8L413.5 196.9L413.7 195.1L414.0 193.4L414.3 191.9L414.5 190.7L414.8 189.8L415.1 189.2L415.3 189.0L415.6 189.1L415.9 189.4L416.1 190.0L416.4 190.6L416.7 191.5L416.9 192.5L417.2 193.7L417.5 194.9L417.7 196.2L418.0 197.6L418.3 198.9L418.5 200.3L418.8 201.7L419.1 203.0L419.3 204.2L419.6 205.4L419.9 206.4L420.1 207.4L420.4 208.3L420.7 209.1L420.9 209.8L421.2 210.5L421.5 211.0L421.7 211.5L422.0 211.9L422.3 212.2L422.5 212.5L422.8 212.7L423.1 212.9L423.3 213.0L423.6 213.1L423.9 213.2L424.1 213.3L424.4 213.4L424.7 213.5L424.9 213.5L425.2 213.6L425.5 213.6L425.7 213.7L426.0 213.8L426.2 213.9L426.5 213.9L426.8 214.0L427.0 214.1L427.3 214.2L427.6 214.3L427.8 214.4L428.1 214.5L428.4 214.6L428.6 214.6L428.9 214.7L429.2 214.8L429.4 214.9L429.7 215.0L430.0 215.1L430.2 215.2L430.5 215.3L430.8 215.4L431.0 215.4L431.3 215.5L431.6 215.6L431.8 215.6L432.1 215.7L432.4 215.7L432.6 215.8L432.9 215.8L433.2 215.8L433.4 215.9L433.7 215.9L434.0 215.9L434.2 215.9L434.5 216.0L434.8 216.0L435.0 216.0L435.3 216.0L435.6 216.0L435.8 216.0L436.1 216.1L436.4 216.1L436.6 216.1L436.9 216.1L437.2 216.1L437.4 216.2L437.7 216.2L438.0 216.2L438.2 216.2L438.5 216.2L438.8 216.2L439.0 216.2L439.3 216.3L439.6 216.3L439.8 216.3L440.1 216.3L440.4 216.3L440.6 216.3L440.9 216.3L441.2 216.4L441.4 216.4L441.7 216.4L442.0 216.4L442.2 216.4L442.5 216.4L442.8 216.4L443.0 216.4L443.3 216.4L443.6 216.4L443.8 216.5L444.1 216.5L444.4 216.5L444.6 216.5L444.9 216.5L445.1 216.5L445.4 216.5L445.7 216.5L445.9 216.5L446.2 216.5L446.5 216.5L446.7 216.5L447.0 216.5L447.3 216.5L447.5 216.5L447.8 216.5L448.1 216.5L448.3 216.5L448.6 216.5L448.9 216.5L449.1 216.5L449.4 216.5L449.7 216.5L449.9 216.5L450.2 216.5L450.5 216.4L450.7 216.4L451.0 216.3L451.3 216.2L451.5 216.2L451.8 216.1L452.1 216.0L452.3 215.9L452.6 215.8L452.9 215.6L453.1 215.4L453.4 215.1L453.7 214.7L453.9 214.4L454.2 214.0L454.5 213.6L454.7 213.2L455.0 212.8L455.3 212.5L455.5 212.2L455.8 212.0L456.1 211.8L456.3 211.6L456.6 211.5L456.9 211.3L457.1 211.1L457.4 210.7L457.7 210.1L457.9 209.4L458.2 208.8L458.5 208.1L458.7 207.5L459.0 206.9L459.3 206.4L459.5 205.8L459.8 205.3L460.1 201.6L460.3 198.0L460.6 194.3L460.9 190.7L461.1 187.1L461.4 183.5L461.7 179.9L461.9 176.3L462.2 172.6L462.5 166.1L462.7 156.6L463.0 147.1L463.3 137.6L463.5 128.2L463.8 118.7L464.0 109.1L464.3 99.6L464.6 90.1L464.8 80.6L465.1 74.0L465.4 67.5L465.6 60.9L465.9 54.3L466.2 47.7L466.4 41.1L466.7 34.6L467.0 28.0L467.2 21.4L467.4 18.1L467.5 21.4L467.8 28.0L468.0 34.6L468.3 41.2L468.6 47.8L468.8 54.4L469.1 61.0L469.4 67.6L469.6 74.2L469.9 80.8L470.2 90.4L470.4 99.9L470.7 109.5L471.0 119.0L471.2 128.5L471.5 138.1L471.8 147.6L472.0 157.1L472.3 166.7L472.6 173.3L472.8 177.0L473.1 180.7L473.4 184.4L473.6 188.1L473.9 191.8L474.2 195.5L474.4 199.2L474.7 202.9L475.0 206.6L475.2 207.2L475.5 207.8L475.8 208.5L476.0 209.1L476.3 209.7L476.6 210.3L476.8 210.9L477.1 211.5L477.4 212.1L477.6 212.4L477.9 212.5L478.2 212.5L478.4 212.6L478.7 212.6L479.0 212.6L479.2 212.6L479.5 212.6L479.8 212.5L480.0 212.4L480.3 212.3L480.6 212.1L480.8 211.9L481.1 211.6L481.4 211.3L481.6 211.0L481.9 210.6L482.2 210.1L482.4 209.6L482.7 209.1L482.9 208.4L483.2 207.7L483.5 206.9L483.7 206.1L484.0 205.2L484.3 204.3L484.5 203.3L484.8 202.3L485.1 201.3L485.3 200.3L485.6 199.3L485.9 198.4L486.1 197.5L486.4 196.7L486.7 196.1L486.9 195.5L487.2 195.1L487.5 194.9L487.7 194.8L488.0 194.9L488.3 195.0L488.5 195.2L488.8 195.5L489.1 195.9L489.3 196.4L489.6 196.9L489.9 197.4L490.1 198.1L490.4 198.7L490.7 199.4L490.9 200.1L491.2 200.9L491.5 201.6L491.7 202.3L492.0 203.0L492.3 203.7L492.5 204.3L492.8 205.0L493.1 205.6L493.3 206.1L493.6 206.7L493.9 207.1L494.1 207.6L494.4 208.0L494.7 208.4L494.9 208.8L495.2 209.1L495.5 209.4L495.7 209.7L496.0 210.0L496.3 210.3L496.5 210.5L496.8 210.8L497.1 211.0L497.3 211.2L497.6 211.4L497.9 211.6L498.1 211.8L498.4 212.0L498.7 212.1L498.9 212.2L499.2 212.4L499.5 212.5L499.7 212.6L500.0 212.7L500.3 212.7L500.5 212.8L500.8 212.8L501.1 212.8L501.3 212.8L501.6 212.8L501.8 212.7L502.1 212.6L502.4 212.4L502.6 212.2L502.9 212.0L503.2 211.8L503.4 211.6L503.7 211.3L504.0 211.1L504.2 210.8L504.5 210.6L504.8 210.3L505.0 210.0L505.3 209.8L505.6 209.5L505.8 209.2L506.1 208.9L506.4 208.6L506.6 208.2L506.9 207.8L507.2 207.4L507.4 206.9L507.7 206.5L508.0 206.1L508.2 205.7L508.5 205.4L508.8 205.1L509.0 204.9L509.3 204.8L509.6 204.7L509.8 204.8L510.1 205.0L510.4 205.2L510.6 205.6L510.9 205.9L511.2 206.4L511.4 206.8L511.7 207.3L512.0 207.8L512.2 208.2L512.5 208.6L512.8 209.0L513.0 209.3L513.3 209.5L513.6 209.6L513.8 209.6L514.1 209.6L514.4 209.6L514.6 209.5L514.9 209.4L515.2 209.4L515.4 209.3L515.7 209.2L516.0 209.1L516.2 209.0L516.5 208.9L516.8 208.8L517.0 208.7L517.3 208.6L517.6 208.5L517.8 208.4L518.1 208.3L518.4 208.2L518.6 208.1L518.9 208.0L519.2 207.9L519.4 207.7L519.7 207.6L520.0 207.4L520.2 207.2L520.5 206.9L520.7 206.6L521.0 206.2L521.3 205.8L521.5 205.2L521.8 204.6L522.1 203.9L522.3 203.1L522.6 202.2L522.9 201.3L523.1 200.3L523.4 199.2L523.7 198.2L523.9 197.2L524.2 196.3L524.5 195.5L524.7 194.9L525.0 194.4L525.3 194.2L525.4 194.1L525.5 194.1L525.8 194.2L526.1 194.4L526.3 194.7L526.6 195.1L526.9 195.6L527.1 196.2L527.4 196.8L527.7 197.5L527.9 198.2L528.2 198.9L528.5 199.6L528.7 200.2L529.0 200.9L529.3 201.4L529.5 202.0L529.8 202.5L530.1 202.9L530.3 203.3L530.6 203.6L530.9 203.9L531.1 204.2L531.4 204.4L531.7 204.6L531.9 204.7L532.2 204.8L532.5 204.9L532.7 205.0L533.0 205.1L533.3 205.2L533.5 205.2L533.8 205.3L534.1 205.3L534.3 205.3L534.6 205.4L534.9 205.4L535.1 205.5L535.4 205.5L535.7 205.6L535.9 205.6L536.2 205.7L536.5 205.7L536.7 205.8L537.0 205.8L537.3 205.9L537.5 206.0L537.8 206.0L538.1 206.1L538.3 206.2L538.6 206.3L538.9 206.3L539.1 206.4L539.4 206.5L539.6 206.6" stroke="#ED7D31" stroke-width="1.9"/>
<path d="M73.8 288.0L74.1 288.0L74.3 288.0L74.6 288.0L74.9 288.0L75.1 288.0L75.4 288.0L75.7 288.0L75.9 288.0L76.2 288.0L76.5 288.0L76.7 288.0L77.0 288.0L77.3 288.0L77.5 288.0L77.8 288.0L78.1 288.0L78.3 288.0L78.6 288.0L78.9 288.0L79.1 288.0L79.4 288.0L79.7 288.0L79.9 288.0L80.2 288.0L80.5 288.0L80.7 288.0L81.0 288.0L81.3 288.0L81.5 288.0L81.8 288.0L82.1 288.0L82.3 288.0L82.6 288.0L82.9 288.0L83.1 288.0L83.4 288.0L83.6 288.0L83.9 288.0L84.2 288.0L84.4 288.0L84.7 288.0L85.0 288.0L85.2 288.0L85.5 288.0L85.8 288.0L86.0 288.0L86.3 288.0L86.6 288.0L86.8 288.0L87.1 288.0L87.4 288.0L87.6 288.0L87.9 288.0L88.2 288.0L88.4 288.0L88.7 288.0L89.0 288.0L89.2 288.0L89.5 288.0L89.8 288.0L90.0 288.0L90.3 288.0L90.6 288.0L90.8 288.0L91.1 288.0L91.4 288.0L91.6 288.0L91.9 288.0L92.2 288.0L92.4 288.0L92.7 288.0L93.0 288.0L93.2 288.0L93.5 288.0L93.8 288.0L94.0 288.0L94.3 288.0L94.6 288.0L94.8 288.0L95.1 288.0L95.4 288.0L95.6 288.0L95.9 288.0L96.2 288.0L96.4 288.0L96.7 288.0L97.0 288.0L97.2 288.0L97.5 288.0L97.8 288.0L98.0 288.0L98.3 288.0L98.6 288.0L98.8 288.0L99.1 288.0L99.4 288.0L99.6 288.0L99.9 288.0L100.2 288.0L100.4 288.0L100.7 288.0L101.0 288.0L101.2 288.0L101.5 288.0L101.8 288.0L102.0 288.0L102.3 287.9L102.5 287.9L102.8 287.8L103.1 287.7L103.3 287.5L103.6 287.3L103.9 287.0L104.1 286.6L104.4 286.0L104.7 285.3L104.9 284.3L105.2 283.1L105.5 281.6L105.7 279.8L106.0 277.7L106.3 275.2L106.5 272.5L106.8 269.4L107.1 266.2L107.3 262.9L107.6 259.6L107.9 256.4L108.1 253.4L108.4 250.9L108.7 248.8L108.9 247.4L109.2 246.7L109.5 246.7L109.7 247.1L110.0 248.1L110.3 249.4L110.5 251.1L110.8 253.2L111.1 255.5L111.3 257.9L111.6 260.5L111.9 263.1L112.1 265.7L112.4 268.2L112.7 270.6L112.9 272.8L113.2 274.8L113.5 276.5L113.7 278.1L114.0 279.5L114.3 280.6L114.5 281.6L114.8 282.4L115.1 283.1L115.3 283.6L115.6 284.0L115.9 284.4L116.1 284.6L116.4 284.8L116.7 284.9L116.9 284.9L117.2 284.8L117.5 284.6L117.7 284.4L118.0 283.9L118.3 283.3L118.5 282.4L118.8 281.3L119.1 279.8L119.3 277.9L119.6 275.6L119.9 272.8L120.1 269.6L120.4 265.9L120.7 261.7L120.9 257.2L121.2 252.3L121.4 247.4L121.7 242.4L122.0 237.6L122.2 233.2L122.5 229.4L122.8 226.2L123.0 223.9L123.3 222.5L123.6 222.1L123.8 222.5L124.1 223.8L124.4 225.9L124.6 228.4L124.9 231.2L125.2 234.2L125.4 237.1L125.7 239.6L126.0 241.6L126.2 243.1L126.5 243.9L126.8 244.0L127.0 243.4L127.3 242.2L127.6 240.5L127.8 238.4L128.1 236.2L128.4 234.0L128.6 231.9L128.9 230.2L129.2 228.9L129.4 228.1L129.7 228.0L130.0 228.5L130.2 229.5L130.5 231.1L130.8 233.0L131.0 235.5L131.3 238.3L131.6 241.4L131.8 244.7L132.1 248.2L132.4 251.7L132.6 255.3L132.9 258.8L133.2 262.1L133.4 265.4L133.7 268.3L134.0 271.1L134.2 273.6L134.5 275.9L134.8 277.9L135.0 279.6L135.3 281.1L135.6 282.4L135.8 283.5L136.1 284.4L136.4 285.1L136.6 285.8L136.9 286.2L137.2 286.6L137.4 286.9L137.7 287.2L138.0 287.4L138.2 287.5L138.5 287.6L138.8 287.7L139.0 287.8L139.3 287.8L139.6 287.8L139.8 287.9L140.1 287.9L140.3 287.9L140.6 287.9L140.9 287.9L141.1 287.9L141.4 287.9L141.7 287.9L141.9 287.9L142.2 287.9L142.5 287.9L142.7 287.9L143.0 287.9L143.3 287.9L143.5 287.9L143.8 287.9L144.1 287.9L144.3 288.0L144.6 288.0L144.9 288.0L145.1 288.0L145.4 288.0L145.7 288.0L145.9 288.0L146.2 288.0L146.5 288.0L146.7 288.0L147.0 288.0L147.3 288.0L147.5 288.0L147.8 288.0L148.1 288.0L148.3 288.0L148.6 288.0L148.9 288.0L149.1 288.0L149.4 288.0L149.7 288.0L149.9 288.0L150.2 288.0L150.5 288.0L150.7 288.0L151.0 288.0L151.3 288.0L151.5 288.0L151.8 288.0L152.1 288.0L152.3 288.0L152.6 288.0L152.9 288.0L153.1 288.0L153.4 288.0L153.7 288.0L153.9 288.0L154.2 288.0L154.5 288.0L154.7 288.0L155.0 288.0L155.3 288.0L155.5 288.0L155.8 288.0L156.1 288.0L156.3 288.0L156.6 288.0L156.9 288.0L157.1 288.0L157.4 288.0L157.7 288.0L157.9 288.0L158.2 288.0L158.5 288.0L158.7 288.0L159.0 288.0L159.3 288.0L159.5 288.0L159.8 288.0L160.0 288.0L160.3 288.0L160.6 287.9L160.8 287.9L161.1 287.9L161.4 287.8L161.6 287.7L161.9 287.6L162.2 287.4L162.4 287.2L162.7 286.8L163.0 286.4L163.2 285.9L163.5 285.2L163.8 284.4L164.0 283.3L164.3 282.0L164.6 280.4L164.8 278.5L165.1 276.3L165.4 273.8L165.6 270.8L165.9 267.6L166.2 263.9L166.4 260.0L166.7 255.8L167.0 251.3L167.2 246.8L167.5 242.2L167.8 237.7L168.0 233.4L168.3 229.5L168.6 226.0L168.8 223.0L169.1 220.7L169.4 219.1L169.6 218.3L169.9 218.3L170.2 219.1L170.4 220.7L170.7 223.0L171.0 226.0L171.2 229.5L171.5 233.4L171.8 237.7L172.0 242.2L172.3 246.8L172.6 251.3L172.8 255.8L173.1 260.0L173.4 263.9L173.6 267.6L173.9 270.8L174.2 273.8L174.4 276.3L174.7 278.5L175.0 280.4L175.2 282.0L175.5 283.3L175.8 284.4L176.0 285.2L176.3 285.9L176.6 286.4L176.8 286.8L177.1 287.2L177.4 287.4L177.6 287.6L177.9 287.7L178.2 287.8L178.4 287.9L178.7 287.9L178.9 287.9L179.2 288.0L179.5 288.0L179.7 288.0L180.0 288.0L180.3 288.0L180.5 288.0L180.8 288.0L181.1 288.0L181.3 288.0L181.6 288.0L181.9 288.0L182.1 287.9L182.4 287.9L182.7 287.9L182.9 287.8L183.2 287.7L183.5 287.6L183.7 287.4L184.0 287.2L184.3 287.0L184.5 286.6L184.8 286.1L185.1 285.5L185.3 284.8L185.6 283.9L185.9 282.8L186.1 281.4L186.4 279.9L186.7 278.0L186.9 275.9L187.2 273.5L187.5 270.8L187.7 267.8L188.0 264.7L188.3 261.3L188.5 257.8L188.8 254.2L189.1 250.7L189.3 247.2L189.6 244.0L189.9 241.0L190.1 238.4L190.4 236.2L190.7 234.5L190.9 233.3L191.2 232.7L191.5 232.6L191.7 233.0L192.0 233.9L192.3 235.2L192.5 236.7L192.8 238.5L193.1 240.3L193.3 242.0L193.6 243.6L193.9 244.9L194.1 245.8L194.4 246.3L194.7 246.3L194.9 245.8L195.2 244.7L195.5 243.2L195.7 241.2L196.0 238.8L196.3 236.2L196.5 233.4L196.8 230.5L197.1 227.7L197.3 225.1L197.6 222.8L197.8 221.0L198.1 219.6L198.4 218.8L198.6 218.6L198.9 219.1L199.2 220.2L199.4 222.0L199.7 224.3L200.0 227.1L200.2 230.4L200.5 234.0L200.8 237.8L201.0 241.8L201.3 245.8L201.6 249.7L201.8 253.5L202.1 257.1L202.4 260.4L202.6 263.4L202.9 266.0L203.2 268.2L203.4 270.0L203.7 271.3L204.0 272.2L204.2 272.8L204.5 272.9L204.8 272.6L205.0 271.9L205.3 270.9L205.6 269.6L205.8 268.0L206.1 266.0L206.4 263.8L206.6 261.4L206.9 258.7L207.2 255.8L207.4 252.7L207.7 249.5L208.0 246.1L208.2 242.6L208.5 239.1L208.8 235.5L209.0 231.9L209.3 228.3L209.6 224.8L209.8 221.5L210.1 218.2L210.4 215.2L210.6 212.3L210.9 209.8L211.2 207.5L211.4 205.6L211.7 204.0L212.0 202.8L212.2 202.0L212.5 201.6L212.8 201.6L213.0 201.9L213.3 202.5L213.6 203.4L213.8 204.6L214.1 206.1L214.4 207.9L214.6 210.0L214.9 212.2L215.2 214.7L215.4 217.3L215.7 220.1L216.0 223.1L216.2 226.1L216.5 229.2L216.7 232.4L217.0 235.6L217.3 238.8L217.5 242.0L217.8 245.1L218.1 248.1L218.3 251.1L218.6 254.0L218.9 256.7L219.1 259.4L219.4 261.9L219.7 264.3L219.9 266.5L220.2 268.6L220.5 270.5L220.7 272.3L221.0 274.0L221.3 275.5L221.5 276.9L221.8 278.2L222.1 279.3L222.3 280.4L222.6 281.3L222.9 282.1L223.1 282.9L223.4 283.5L223.7 284.1L223.9 284.6L224.2 285.1L224.5 285.5L224.7 285.8L225.0 286.1L225.3 286.4L225.5 286.6L225.8 286.8L226.1 286.9L226.3 287.1L226.6 287.2L226.9 287.3L227.1 287.4L227.4 287.5L227.7 287.5L227.9 287.6L228.2 287.6L228.5 287.7L228.7 287.7L229.0 287.7L229.3 287.8L229.5 287.8L229.8 287.8L230.1 287.8L230.3 287.8L230.6 287.8L230.9 287.9L231.1 287.9L231.4 287.9L231.7 287.9L231.9 287.9L232.2 287.9L232.5 287.9L232.7 287.9L233.0 287.9L233.3 287.9L233.5 287.9L233.8 287.9L234.1 287.9L234.3 287.9L234.6 287.9L234.9 287.9L235.1 287.9L235.4 287.9L235.6 287.9L235.9 288.0L236.2 288.0L236.4 288.0L236.7 288.0L237.0 288.0L237.2 288.0L237.5 288.0L237.8 288.0L238.0 288.0L238.3 288.0L238.6 288.0L238.8 288.0L239.1 288.0L239.4 287.9L239.6 287.9L239.9 287.9L240.2 287.9L240.4 287.9L240.7 287.9L241.0 287.9L241.2 287.8L241.5 287.8L241.8 287.8L242.0 287.7L242.3 287.6L242.6 287.6L242.8 287.5L243.1 287.4L243.4 287.2L243.6 287.1L243.9 286.9L244.2 286.7L244.4 286.5L244.7 286.3L245.0 286.0L245.2 285.7L245.5 285.3L245.8 284.9L246.0 284.5L246.3 284.1L246.6 283.6L246.8 283.0L247.1 282.4L247.4 281.8L247.6 281.2L247.9 280.5L248.2 279.8L248.4 279.1L248.7 278.4L249.0 277.6L249.2 276.9L249.5 276.1L249.8 275.4L250.0 274.7L250.3 274.1L250.6 273.5L250.8 272.9L251.1 272.4L251.4 271.9L251.6 271.6L251.9 271.3L252.2 271.1L252.4 270.9L252.7 270.9L253.0 270.9L253.2 271.1L253.5 271.3L253.8 271.6L254.0 271.9L254.3 272.4L254.5 272.9L254.8 273.5L255.1 274.1L255.3 274.7L255.6 275.4L255.9 276.1L256.1 276.9L256.4 277.6L256.7 278.4L256.9 279.1L257.2 279.8L257.5 280.5L257.7 281.2L258.0 281.8L258.3 282.4L258.5 283.0L258.8 283.6L259.1 284.1L259.3 284.5L259.6 284.9L259.9 285.3L260.1 285.7L260.4 286.0L260.7 286.3L260.9 286.5L261.2 286.7L261.5 286.9L261.7 287.1L262.0 287.2L262.3 287.3L262.5 287.4L262.8 287.4L263.1 287.5L263.3 287.5L263.6 287.5L263.9 287.4L264.1 287.4L264.4 287.3L264.7 287.2L264.9 287.0L265.2 286.8L265.5 286.6L265.7 286.3L266.0 285.9L266.3 285.5L266.5 285.0L266.8 284.5L267.1 283.8L267.3 283.0L267.6 282.1L267.9 281.1L268.1 280.0L268.4 278.7L268.7 277.3L268.9 275.6L269.2 273.8L269.5 271.9L269.7 269.7L270.0 267.3L270.3 264.8L270.5 262.0L270.8 259.1L271.1 256.0L271.3 252.7L271.6 249.3L271.9 245.7L272.1 242.1L272.4 238.3L272.7 234.5L272.9 230.7L273.2 226.9L273.4 223.1L273.7 219.5L274.0 216.0L274.2 212.7L274.5 209.6L274.8 206.7L275.0 204.2L275.3 201.9L275.6 200.1L275.8 198.6L276.1 197.5L276.4 196.9L276.6 196.7L276.9 196.9L277.2 197.5L277.4 198.6L277.7 200.1L278.0 201.9L278.2 204.1L278.5 206.7L278.8 209.5L279.0 212.6L279.3 216.0L279.6 219.4L279.8 223.1L280.1 226.8L280.4 230.6L280.6 234.4L280.9 238.1L281.2 241.8L281.4 245.4L281.7 248.9L282.0 252.3L282.2 255.4L282.5 258.4L282.8 261.2L283.0 263.8L283.3 266.1L283.6 268.2L283.8 270.1L284.1 271.7L284.4 273.0L284.6 274.2L284.9 275.1L285.2 275.7L285.4 276.2L285.7 276.4L286.0 276.3L286.2 276.1L286.5 275.7L286.8 275.0L287.0 274.2L287.3 273.1L287.6 271.9L287.8 270.6L288.1 269.0L288.4 267.4L288.6 265.6L288.9 263.7L289.2 261.8L289.4 259.7L289.7 257.7L290.0 255.6L290.2 253.5L290.5 251.5L290.8 249.5L291.0 247.7L291.3 245.9L291.6 244.3L291.8 242.8L292.1 241.5L292.4 240.5L292.6 239.6L292.9 239.0L293.1 238.6L293.4 238.5L293.7 238.6L293.9 238.9L294.2 239.3L294.5 239.9L294.7 240.7L295.0 241.7L295.3 242.8L295.5 244.0L295.8 245.3L296.1 246.8L296.3 248.4L296.6 250.0L296.9 251.7L297.1 253.5L297.4 255.3L297.7 257.1L297.9 258.9L298.2 260.7L298.5 262.5L298.7 264.3L299.0 266.0L299.3 267.7L299.5 269.3L299.8 270.8L300.1 272.3L300.3 273.7L300.6 275.0L300.9 276.2L301.1 277.3L301.4 278.4L301.7 279.4L301.9 280.2L302.2 281.1L302.5 281.8L302.7 282.5L303.0 283.1L303.3 283.7L303.5 284.2L303.8 284.6L304.1 285.0L304.3 285.3L304.6 285.7L304.9 285.9L305.1 286.2L305.4 286.4L305.7 286.6L305.9 286.7L306.2 286.8L306.5 287.0L306.7 287.1L307.0 287.2L307.3 287.2L307.5 287.3L307.8 287.4L308.1 287.4L308.3 287.5L308.6 287.5L308.9 287.5L309.1 287.6L309.4 287.6L309.7 287.6L309.9 287.6L310.2 287.7L310.5 287.7L310.7 287.7L311.0 287.7L311.3 287.7L311.5 287.7L311.8 287.8L312.0 287.8L312.3 287.8L312.6 287.8L312.8 287.8L313.1 287.8L313.4 287.8L313.6 287.8L313.9 287.8L314.2 287.8L314.4 287.8L314.7 287.8L315.0 287.8L315.2 287.8L315.5 287.8L315.8 287.8L316.0 287.8L316.3 287.8L316.6 287.8L316.8 287.7L317.1 287.7L317.4 287.7L317.6 287.6L317.9 287.5L318.2 287.4L318.4 287.3L318.7 287.2L319.0 287.0L319.2 286.9L319.5 286.7L319.8 286.4L320.0 286.1L320.3 285.8L320.6 285.4L320.8 285.0L321.1 284.5L321.4 284.0L321.6 283.5L321.9 282.8L322.2 282.2L322.4 281.4L322.7 280.7L323.0 279.8L323.2 279.0L323.5 278.1L323.8 277.2L324.0 276.2L324.3 275.3L324.6 274.4L324.8 273.5L325.1 272.6L325.4 271.7L325.6 270.9L325.9 270.2L326.2 269.6L326.4 269.0L326.7 268.6L327.0 268.2L327.2 268.0L327.5 267.9L327.8 267.9L328.0 268.0L328.3 268.2L328.6 268.6L328.8 269.0L329.1 269.6L329.4 270.2L329.6 271.0L329.9 271.7L330.2 272.6L330.4 273.5L330.7 274.4L330.9 275.3L331.2 276.3L331.5 277.2L331.7 278.1L332.0 279.1L332.3 280.0L332.5 280.8L332.8 281.6L333.1 282.4L333.3 283.1L333.6 283.8L333.9 284.4L334.1 285.0L334.4 285.5L334.7 286.0L334.9 286.5L335.2 286.9L335.5 287.2L335.7 287.6L336.0 287.9L336.3 288.2L336.5 288.6L336.8 289.0L337.1 289.5L337.3 290.1L337.6 290.6L337.9 291.2L338.1 291.7L338.4 292.3L338.7 292.8L338.9 293.3L339.2 293.7L339.5 294.0L339.7 294.3L340.0 294.4L340.3 294.5L340.5 294.6L340.8 294.7L341.1 294.8L341.3 294.9L341.6 295.0L341.9 295.1L342.1 295.1L342.4 295.2L342.7 295.3L342.9 295.3L343.2 295.4L343.5 295.4L343.7 295.5L344.0 295.5L344.3 295.6L344.5 295.6L344.8 295.6L345.1 295.6L345.3 295.6L345.6 295.5L345.9 295.5L346.1 295.3L346.4 295.2L346.7 295.0L346.9 294.7L347.2 294.3L347.5 293.9L347.7 293.2L348.0 292.4L348.3 291.3L348.5 290.0L348.8 288.5L349.1 286.7L349.3 284.6L349.6 282.3L349.8 279.7L350.1 276.8L350.4 273.7L350.6 270.4L350.9 266.9L351.2 263.2L351.4 259.4L351.7 255.6L352.0 251.9L352.2 248.3L352.5 244.8L352.8 241.5L353.0 238.6L353.3 236.1L353.6 234.0L353.8 232.4L354.1 231.4L354.4 230.9L354.6 231.1L354.9 231.9L355.2 233.3L355.4 235.3L355.7 237.8L356.0 240.7L356.2 243.9L356.5 247.3L356.8 250.9L357.0 254.6L357.3 258.2L357.6 261.7L357.8 265.1L358.1 268.2L358.4 271.1L358.6 273.7L358.9 276.0L359.2 278.1L359.4 279.9L359.7 281.4L360.0 282.6L360.2 283.7L360.5 284.5L360.8 285.2L361.0 285.7L361.3 286.1L361.6 286.3L361.8 286.4L362.1 286.4L362.4 286.2L362.6 285.7L362.9 285.0L363.2 283.9L363.4 282.5L363.7 280.7L364.0 278.7L364.2 276.5L364.5 274.4L364.8 272.4L365.0 270.9L365.3 269.8L365.6 269.3L365.8 269.2L366.1 269.3L366.4 269.4L366.6 269.3L366.9 268.7L367.2 267.5L367.4 265.6L367.7 263.0L368.0 259.9L368.2 256.2L368.5 252.3L368.7 248.2L369.0 244.1L369.3 240.3L369.5 236.9L369.8 234.1L370.1 232.0L370.3 230.7L370.6 230.2L370.9 230.4L371.1 231.2L371.4 232.5L371.7 234.3L371.9 236.5L372.2 239.1L372.5 242.0L372.7 245.1L373.0 248.3L373.3 251.7L373.5 255.0L373.8 258.3L374.1 261.4L374.3 264.4L374.6 267.2L374.9 269.8L375.1 272.1L375.4 274.2L375.7 276.1L375.9 277.7L376.2 279.1L376.5 280.2L376.7 281.2L377.0 282.1L377.3 282.8L377.5 283.3L377.8 283.7L378.1 284.1L378.3 284.4L378.6 284.6L378.9 284.8L379.1 284.9L379.4 285.0L379.7 285.0L379.9 285.1L380.2 285.1L380.5 285.2L380.7 285.2L381.0 285.2L381.3 285.2L381.5 285.2L381.8 285.2L382.1 285.2L382.3 285.2L382.6 285.2L382.9 285.2L383.1 285.2L383.4 285.2L383.7 285.2L383.9 285.2L384.2 285.2L384.5 285.2L384.7 285.2L385.0 285.2L385.3 285.2L385.5 285.2L385.8 285.2L386.1 285.2L386.3 285.1L386.6 285.1L386.9 285.0L387.1 284.9L387.4 284.8L387.6 284.6L387.9 284.3L388.2 284.0L388.4 283.6L388.7 283.0L389.0 282.3L389.2 281.4L389.5 280.2L389.8 278.8L390.0 277.2L390.3 275.1L390.6 272.8L390.8 270.1L391.1 266.9L391.4 263.4L391.6 259.6L391.9 255.3L392.2 250.8L392.4 246.1L392.7 241.3L393.0 236.4L393.2 231.6L393.5 227.0L393.8 222.8L394.0 219.0L394.3 215.9L394.6 213.4L394.8 211.6L395.1 210.7L395.4 210.6L395.6 211.4L395.9 212.9L396.2 215.2L396.4 218.1L396.7 221.5L397.0 225.2L397.2 229.2L397.5 233.2L397.8 237.1L398.0 240.8L398.3 244.0L398.6 246.8L398.8 248.9L399.1 250.4L399.4 251.1L399.6 251.2L399.9 250.5L400.2 249.1L400.4 247.1L400.7 244.7L401.0 241.8L401.2 238.7L401.5 235.4L401.8 232.3L402.0 229.3L402.3 226.6L402.6 224.4L402.8 222.8L403.1 221.8L403.4 221.5L403.6 222.0L403.9 223.3L404.2 225.2L404.4 227.7L404.7 230.9L405.0 234.5L405.2 238.4L405.5 242.5L405.8 246.8L406.0 251.0L406.3 255.2L406.6 259.2L406.8 262.9L407.1 266.3L407.3 269.4L407.6 272.1L407.9 274.5L408.1 276.6L408.4 278.3L408.7 279.7L408.9 280.9L409.2 281.8L409.5 282.5L409.7 283.0L410.0 283.3L410.3 283.5L410.5 283.6L410.8 283.6L411.1 283.4L411.3 283.2L411.6 282.9L411.9 282.4L412.1 281.9L412.4 281.2L412.7 280.4L412.9 279.5L413.2 278.4L413.5 277.2L413.7 275.9L414.0 274.4L414.3 272.7L414.5 270.9L414.8 269.0L415.1 266.9L415.3 264.6L415.6 262.3L415.9 259.9L416.1 257.4L416.4 254.8L416.7 252.3L416.9 249.8L417.2 247.4L417.5 245.1L417.7 243.0L418.0 241.0L418.3 239.3L418.5 237.8L418.8 236.6L419.1 235.8L419.3 235.2L419.6 235.1L419.9 235.2L420.1 235.7L420.4 236.6L420.7 237.7L420.9 239.1L421.2 240.8L421.5 242.8L421.7 244.9L422.0 247.2L422.3 249.6L422.5 252.0L422.8 254.5L423.1 257.1L423.3 259.5L423.6 261.9L423.9 264.2L424.1 266.5L424.4 268.5L424.7 270.5L424.9 272.3L425.2 273.9L425.5 275.4L425.7 276.7L426.0 277.9L426.2 278.9L426.5 279.8L426.8 280.5L427.0 281.2L427.3 281.7L427.6 282.1L427.8 282.5L428.1 282.7L428.4 282.9L428.6 283.0L428.9 283.0L429.2 283.0L429.4 282.9L429.7 282.7L430.0 282.4L430.2 282.1L430.5 281.7L430.8 281.2L431.0 280.6L431.3 279.9L431.6 279.2L431.8 278.3L432.1 277.3L432.4 276.3L432.6 275.1L432.9 273.7L433.2 272.3L433.4 270.8L433.7 269.1L434.0 267.4L434.2 265.5L434.5 263.6L434.8 261.6L435.0 259.6L435.3 257.5L435.6 255.5L435.8 253.4L436.1 251.4L436.4 249.5L436.6 247.7L436.9 245.9L437.2 244.4L437.4 243.0L437.7 241.8L438.0 240.8L438.2 240.0L438.5 239.5L438.8 239.2L439.0 239.2L439.3 239.6L439.6 240.2L439.8 241.1L440.1 242.4L440.4 243.9L440.6 245.6L440.9 247.5L441.2 249.6L441.4 251.7L441.7 254.0L442.0 256.3L442.2 258.6L442.5 260.9L442.8 263.2L443.0 265.3L443.3 267.4L443.6 269.3L443.8 271.1L444.1 272.7L444.4 274.2L444.6 275.6L444.9 276.8L445.1 277.9L445.4 278.8L445.7 279.7L445.9 280.4L446.2 281.0L446.5 281.5L446.7 281.9L447.0 282.2L447.3 282.5L447.5 282.8L447.8 283.0L448.1 283.1L448.3 283.2L448.6 283.3L448.9 283.4L449.1 283.5L449.4 283.5L449.7 283.5L449.9 283.6L450.2 283.6L450.5 283.6L450.7 283.6L451.0 283.6L451.3 283.6L451.5 283.6L451.8 283.6L452.1 283.6L452.3 283.6L452.6 283.6L452.9 283.6L453.1 283.6L453.4 283.6L453.7 283.6L453.9 283.6L454.2 283.6L454.5 283.6L454.7 283.6L455.0 283.6L455.3 283.7L455.5 283.7L455.8 283.7L456.1 283.4L456.3 283.1L456.6 282.8L456.9 282.5L457.1 282.2L457.4 281.8L457.7 281.5L457.9 281.2L458.2 279.8L458.5 277.3L458.7 274.7L459.0 272.2L459.3 269.7L459.5 267.2L459.8 264.6L460.1 262.1L460.3 259.6L460.6 252.6L460.9 245.5L461.1 238.5L461.4 231.5L461.7 224.4L461.9 217.4L462.2 210.4L462.5 203.3L462.7 197.3L463.0 192.3L463.3 187.3L463.5 182.3L463.8 177.3L464.0 172.2L464.3 167.2L464.6 162.2L464.8 157.2L465.1 160.4L465.4 163.6L465.6 166.8L465.9 170.0L466.2 173.2L466.4 176.4L466.7 179.6L467.0 182.8L467.2 187.4L467.4 190.4L467.5 193.5L467.8 199.5L468.0 205.6L468.3 211.7L468.6 217.7L468.8 223.8L469.1 229.8L469.4 235.9L469.6 239.9L469.9 244.0L470.2 248.0L470.4 252.0L470.7 256.1L471.0 260.1L471.2 264.2L471.5 268.2L471.8 270.9L472.0 272.4L472.3 273.8L472.6 275.2L472.8 276.6L473.1 278.1L473.4 279.5L473.6 280.9L473.9 282.3L474.2 282.5L474.4 282.8L474.7 283.0L475.0 283.2L475.2 283.3L475.5 283.5L475.8 283.6L476.0 283.6L476.3 283.5L476.6 283.2L476.8 282.8L477.1 282.3L477.4 281.7L477.6 281.0L477.9 280.2L478.2 279.2L478.4 278.1L478.7 276.7L479.0 275.1L479.2 273.3L479.5 271.3L479.8 269.0L480.0 266.5L480.3 263.8L480.6 260.8L480.8 257.5L481.1 254.1L481.4 250.4L481.6 246.5L481.9 242.5L482.2 238.3L482.4 234.1L482.7 229.8L482.9 225.6L483.2 221.4L483.5 217.4L483.7 213.6L484.0 210.1L484.3 206.9L484.5 204.1L484.8 201.7L485.1 199.8L485.3 198.5L485.6 197.6L485.9 197.3L486.1 197.6L486.4 198.2L486.7 199.1L486.9 200.5L487.2 202.3L487.5 204.3L487.7 206.7L488.0 209.4L488.3 212.3L488.5 215.4L488.8 218.7L489.1 222.1L489.3 225.6L489.6 229.2L489.9 232.8L490.1 236.4L490.4 240.0L490.7 243.5L490.9 246.9L491.2 250.1L491.5 253.3L491.7 256.2L492.0 259.0L492.3 261.6L492.5 264.1L492.8 266.3L493.1 268.4L493.3 270.3L493.6 272.1L493.9 273.6L494.1 275.0L494.4 276.3L494.7 277.4L494.9 278.4L495.2 279.3L495.5 280.1L495.7 280.8L496.0 281.4L496.3 281.9L496.5 282.4L496.8 282.8L497.1 283.2L497.3 283.5L497.6 283.8L497.9 284.1L498.1 284.3L498.4 284.6L498.7 284.8L498.9 285.0L499.2 285.1L499.5 285.3L499.7 285.5L500.0 285.6L500.3 285.8L500.5 285.9L500.8 286.0L501.1 286.2L501.3 286.4L501.6 286.6L501.8 286.8L502.1 287.0L502.4 287.3L502.6 287.5L502.9 287.7L503.2 287.9L503.4 288.1L503.7 288.2L504.0 288.4L504.2 288.5L504.5 288.6L504.8 288.7L505.0 288.7L505.3 288.6L505.6 288.5L505.8 288.2L506.1 287.8L506.4 287.4L506.6 286.9L506.9 286.4L507.2 285.8L507.4 285.2L507.7 284.7L508.0 284.1L508.2 283.6L508.5 283.2L508.8 282.8L509.0 282.4L509.3 282.2L509.6 281.9L509.8 281.6L510.1 281.4L510.4 281.1L510.6 280.9L510.9 280.7L511.2 280.5L511.4 280.3L511.7 280.1L512.0 279.9L512.2 279.8L512.5 279.6L512.8 279.5L513.0 279.4L513.3 279.4L513.6 279.3L513.8 279.3L514.1 279.2L514.4 279.1L514.6 279.1L514.9 279.0L515.2 279.0L515.4 278.9L515.7 278.9L516.0 278.9L516.2 278.8L516.5 278.8L516.8 278.8L517.0 278.7L517.3 278.6L517.6 278.6L517.8 278.5L518.1 278.4L518.4 278.4L518.6 278.3L518.9 278.2L519.2 277.5L519.4 276.2L519.7 274.8L520.0 273.5L520.2 272.1L520.5 270.8L520.7 269.4L521.0 268.0L521.3 262.3L521.5 252.3L521.8 242.3L522.1 232.2L522.3 222.2L522.6 212.2L522.9 202.1L523.1 192.1L523.4 181.3L523.7 169.6L523.9 158.0L524.2 146.4L524.5 134.7L524.7 123.1L525.0 111.5L525.3 99.9L525.4 94.0L525.5 99.8L525.8 111.3L526.1 122.7L526.3 134.1L526.6 145.6L526.9 157.0L527.1 168.5L527.4 180.0L527.7 190.8L527.9 200.8L528.2 210.9L528.5 220.9L528.7 231.0L529.0 241.1L529.3 251.2L529.5 261.4L529.8 267.1L530.1 268.6L530.3 270.0L530.6 271.4L530.9 272.8L531.1 274.2L531.4 275.6L531.7 277.0L531.9 277.8L532.2 277.9L532.5 278.0L532.7 278.0L533.0 278.1L533.3 278.2L533.5 278.3L533.8 278.4L534.1 278.4L534.3 278.4L534.6 278.5L534.9 278.5L535.1 278.6L535.4 278.6L535.7 278.6L535.9 278.7L536.2 278.7L536.5 278.7L536.7 278.8L537.0 278.8L537.3 278.8L537.5 278.9L537.8 278.9L538.1 279.0L538.3 279.0L538.6 279.0L538.9 279.1L539.1 279.1L539.4 279.2L539.6 279.2" stroke="#4472C4" stroke-width="1.9"/>
</g>
<g font-family="Liberation Sans, sans-serif" stroke="#000" stroke-width="0.15" font-size="14.6" fill="#000" text-anchor="end">
<text x="59.2" y="292.5">0</text>
<text x="59.2" y="246.2">200</text>
<text x="59.2" y="200.0">400</text>
<text x="59.2" y="153.8">600</text>
<text x="59.2" y="107.5">800</text>
<text x="59.2" y="61.2">1000</text>
<text x="59.2" y="15.0">1200</text>
</g>
<g font-family="Liberation Sans, sans-serif" stroke="#000" stroke-width="0.15" font-size="14.6" fill="#000" text-anchor="middle">
<text x="73.8" y="313.9">0</text>
<text x="140.3" y="313.9">5</text>
<text x="206.9" y="313.9">10</text>
<text x="273.4" y="313.9">15</text>
<text x="340.0" y="313.9">20</text>
<text x="406.6" y="313.9">25</text>
<text x="473.1" y="313.9">30</text>
<text x="539.6" y="313.9">35</text>
</g>
<text font-family="Liberation Sans, sans-serif" stroke="#000" stroke-width="0.15" font-size="14.6" fill="#000" x="274.6" y="335.9" textLength="63.8" lengthAdjust="spacingAndGlyphs">Time/min</text>
<text font-family="Liberation Sans, sans-serif" stroke="#000" stroke-width="0.15" font-size="14.6" fill="#000" transform="translate(15.5 194.1) rotate(-90)" textLength="84.1" lengthAdjust="spacingAndGlyphs">Intensity/mV</text>
<rect x="84" y="14.2" width="174.3" height="58.8" fill="#fff" stroke="#000" stroke-width="1.2"/>
<path d="M88.4 22.4H111.2" stroke="#4472C4" stroke-width="1.9" fill="none"/>
<text font-family="Liberation Sans, sans-serif" stroke="#000" stroke-width="0.15" font-size="12.4" fill="#000" x="113.2" y="26.1" textLength="50.0" lengthAdjust="spacingAndGlyphs">standard</text>
<path d="M88.4 42.5H111.2" stroke="#ED7D31" stroke-width="1.9" fill="none"/>
<text font-family="Liberation Sans, sans-serif" stroke="#000" stroke-width="0.15" font-size="12.4" fill="#000" x="113.2" y="46.2" textLength="139.6" lengthAdjust="spacingAndGlyphs">FAW(10) 1.5kGy/h×600h</text>
<path d="M88.4 62.5H111.2" stroke="#A5A5A5" stroke-width="1.9" fill="none"/>
<text font-family="Liberation Sans, sans-serif" stroke="#000" stroke-width="0.15" font-size="12.4" fill="#000" x="113.2" y="66.2" textLength="113.6" lengthAdjust="spacingAndGlyphs">FAW(10) 80°C×168h</text>
<text font-family="Liberation Sans, sans-serif" stroke="#000" stroke-width="0.15" font-size="13.8" fill="#000" x="265.8" y="25.6" textLength="21.6" lengthAdjust="spacingAndGlyphs">Gly</text>
<text font-family="Liberation Sans, sans-serif" stroke="#000" stroke-width="0.15" font-size="13.8" fill="#000" x="423.8" y="28.0" textLength="34.6" lengthAdjust="spacingAndGlyphs">β-Ala</text>
<g font-family="Liberation Sans, sans-serif" stroke="#000" stroke-width="0.15" font-size="13.2" fill="#000">
<text transform="translate(172.4 161.2) rotate(-90)" textLength="23.2" lengthAdjust="spacingAndGlyphs">Asp</text>
<text transform="translate(189.7 161.2) rotate(-90)" textLength="20.6" lengthAdjust="spacingAndGlyphs">Thr</text>
<text transform="translate(204.4 161.2) rotate(-90)" textLength="19.8" lengthAdjust="spacingAndGlyphs">Ser</text>
<text transform="translate(217.9 142.6) rotate(-90)" textLength="21.2" lengthAdjust="spacingAndGlyphs">Glu</text>
<text transform="translate(258.7 154.8) rotate(-90)" textLength="42.0" lengthAdjust="spacingAndGlyphs">α-AAA</text>
<text transform="translate(304.5 117.0) rotate(-90)" textLength="18.8" lengthAdjust="spacingAndGlyphs">Ala</text>
<text transform="translate(331.8 159.4) rotate(-90)" textLength="41.0" lengthAdjust="spacingAndGlyphs">α-ABA</text>
<text transform="translate(359.1 159.4) rotate(-90)" textLength="20.4" lengthAdjust="spacingAndGlyphs">Val</text>
<text transform="translate(393.5 154.2) rotate(-90)" textLength="15.0" lengthAdjust="spacingAndGlyphs">Ile</text>
<text transform="translate(411.2 154.2) rotate(-90)" textLength="22.8" lengthAdjust="spacingAndGlyphs">Leu</text>
<text transform="translate(489.5 143.6) rotate(-90)" textLength="36.0" lengthAdjust="spacingAndGlyphs">β-AIB</text>
<text transform="translate(528.2 90.6) rotate(-90)" textLength="40.2" lengthAdjust="spacingAndGlyphs">γ-ABA</text>
</g>
</svg>
</body></html>
